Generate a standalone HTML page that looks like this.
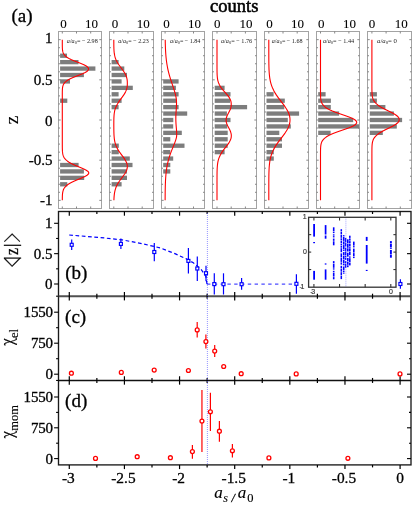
<!DOCTYPE html><html><head><meta charset="utf-8"><style>html,body{margin:0;padding:0;background:#fff;overflow:hidden}svg{display:block;filter:blur(0.3px)}text{stroke:#000;stroke-width:0.3px}text.lt{stroke:none}</style></head><body>
<svg width="415" height="505" viewBox="0 0 415 505">
<rect width="415" height="505" fill="#fff"/>
<rect x="60.1" y="53.57" width="6.9" height="4.3" fill="#7d7d7d"/>
<rect x="60.1" y="60" width="18.4" height="4.3" fill="#7d7d7d"/>
<rect x="60.1" y="66.43" width="35.3" height="4.3" fill="#7d7d7d"/>
<rect x="60.1" y="72.85" width="23.8" height="4.3" fill="#7d7d7d"/>
<rect x="60.1" y="79.28" width="9.9" height="4.3" fill="#7d7d7d"/>
<rect x="60.1" y="98.57" width="7.2" height="4.3" fill="#7d7d7d"/>
<rect x="60.1" y="162.85" width="18.5" height="4.3" fill="#7d7d7d"/>
<rect x="60.1" y="169.27" width="23.8" height="4.3" fill="#7d7d7d"/>
<rect x="60.1" y="175.7" width="24.1" height="4.3" fill="#7d7d7d"/>
<rect x="60.1" y="182.13" width="7.2" height="4.3" fill="#7d7d7d"/>
<rect x="58.5" y="31.5" width="43" height="177" fill="none" stroke="#a3a3a3" stroke-width="1"/>
<line x1="62.3" y1="31.5" x2="62.3" y2="33.5" stroke="#7a7a7a" stroke-width="0.9"/>
<line x1="62.3" y1="208.5" x2="62.3" y2="206.5" stroke="#7a7a7a" stroke-width="0.9"/>
<line x1="76.5" y1="31.5" x2="76.5" y2="33.5" stroke="#7a7a7a" stroke-width="0.9"/>
<line x1="76.5" y1="208.5" x2="76.5" y2="206.5" stroke="#7a7a7a" stroke-width="0.9"/>
<line x1="90.7" y1="31.5" x2="90.7" y2="33.5" stroke="#7a7a7a" stroke-width="0.9"/>
<line x1="90.7" y1="208.5" x2="90.7" y2="206.5" stroke="#7a7a7a" stroke-width="0.9"/>
<line x1="58.5" y1="200.35" x2="60.7" y2="200.35" stroke="#7a7a7a" stroke-width="0.9"/>
<line x1="101.5" y1="200.35" x2="99.3" y2="200.35" stroke="#7a7a7a" stroke-width="0.9"/>
<line x1="58.5" y1="192.31" x2="60" y2="192.31" stroke="#7a7a7a" stroke-width="0.9"/>
<line x1="101.5" y1="192.31" x2="100" y2="192.31" stroke="#7a7a7a" stroke-width="0.9"/>
<line x1="58.5" y1="184.28" x2="60" y2="184.28" stroke="#7a7a7a" stroke-width="0.9"/>
<line x1="101.5" y1="184.28" x2="100" y2="184.28" stroke="#7a7a7a" stroke-width="0.9"/>
<line x1="58.5" y1="176.25" x2="60" y2="176.25" stroke="#7a7a7a" stroke-width="0.9"/>
<line x1="101.5" y1="176.25" x2="100" y2="176.25" stroke="#7a7a7a" stroke-width="0.9"/>
<line x1="58.5" y1="168.21" x2="60" y2="168.21" stroke="#7a7a7a" stroke-width="0.9"/>
<line x1="101.5" y1="168.21" x2="100" y2="168.21" stroke="#7a7a7a" stroke-width="0.9"/>
<line x1="58.5" y1="160.18" x2="60.7" y2="160.18" stroke="#7a7a7a" stroke-width="0.9"/>
<line x1="101.5" y1="160.18" x2="99.3" y2="160.18" stroke="#7a7a7a" stroke-width="0.9"/>
<line x1="58.5" y1="152.14" x2="60" y2="152.14" stroke="#7a7a7a" stroke-width="0.9"/>
<line x1="101.5" y1="152.14" x2="100" y2="152.14" stroke="#7a7a7a" stroke-width="0.9"/>
<line x1="58.5" y1="144.1" x2="60" y2="144.1" stroke="#7a7a7a" stroke-width="0.9"/>
<line x1="101.5" y1="144.1" x2="100" y2="144.1" stroke="#7a7a7a" stroke-width="0.9"/>
<line x1="58.5" y1="136.07" x2="60" y2="136.07" stroke="#7a7a7a" stroke-width="0.9"/>
<line x1="101.5" y1="136.07" x2="100" y2="136.07" stroke="#7a7a7a" stroke-width="0.9"/>
<line x1="58.5" y1="128.03" x2="60" y2="128.03" stroke="#7a7a7a" stroke-width="0.9"/>
<line x1="101.5" y1="128.03" x2="100" y2="128.03" stroke="#7a7a7a" stroke-width="0.9"/>
<line x1="58.5" y1="120" x2="60.7" y2="120" stroke="#7a7a7a" stroke-width="0.9"/>
<line x1="101.5" y1="120" x2="99.3" y2="120" stroke="#7a7a7a" stroke-width="0.9"/>
<line x1="58.5" y1="111.97" x2="60" y2="111.97" stroke="#7a7a7a" stroke-width="0.9"/>
<line x1="101.5" y1="111.97" x2="100" y2="111.97" stroke="#7a7a7a" stroke-width="0.9"/>
<line x1="58.5" y1="103.93" x2="60" y2="103.93" stroke="#7a7a7a" stroke-width="0.9"/>
<line x1="101.5" y1="103.93" x2="100" y2="103.93" stroke="#7a7a7a" stroke-width="0.9"/>
<line x1="58.5" y1="95.9" x2="60" y2="95.9" stroke="#7a7a7a" stroke-width="0.9"/>
<line x1="101.5" y1="95.9" x2="100" y2="95.9" stroke="#7a7a7a" stroke-width="0.9"/>
<line x1="58.5" y1="87.86" x2="60" y2="87.86" stroke="#7a7a7a" stroke-width="0.9"/>
<line x1="101.5" y1="87.86" x2="100" y2="87.86" stroke="#7a7a7a" stroke-width="0.9"/>
<line x1="58.5" y1="79.83" x2="60.7" y2="79.83" stroke="#7a7a7a" stroke-width="0.9"/>
<line x1="101.5" y1="79.83" x2="99.3" y2="79.83" stroke="#7a7a7a" stroke-width="0.9"/>
<line x1="58.5" y1="71.79" x2="60" y2="71.79" stroke="#7a7a7a" stroke-width="0.9"/>
<line x1="101.5" y1="71.79" x2="100" y2="71.79" stroke="#7a7a7a" stroke-width="0.9"/>
<line x1="58.5" y1="63.76" x2="60" y2="63.76" stroke="#7a7a7a" stroke-width="0.9"/>
<line x1="101.5" y1="63.76" x2="100" y2="63.76" stroke="#7a7a7a" stroke-width="0.9"/>
<line x1="58.5" y1="55.72" x2="60" y2="55.72" stroke="#7a7a7a" stroke-width="0.9"/>
<line x1="101.5" y1="55.72" x2="100" y2="55.72" stroke="#7a7a7a" stroke-width="0.9"/>
<line x1="58.5" y1="47.69" x2="60" y2="47.69" stroke="#7a7a7a" stroke-width="0.9"/>
<line x1="101.5" y1="47.69" x2="100" y2="47.69" stroke="#7a7a7a" stroke-width="0.9"/>
<line x1="58.5" y1="39.65" x2="60.7" y2="39.65" stroke="#7a7a7a" stroke-width="0.9"/>
<line x1="101.5" y1="39.65" x2="99.3" y2="39.65" stroke="#7a7a7a" stroke-width="0.9"/>
<polyline points="62.3,39.65 62.3,40.65 62.3,41.66 62.3,42.66 62.3,43.67 62.31,44.67 62.32,45.68 62.33,46.68 62.36,47.69 62.4,48.69 62.48,49.69 62.61,50.7 62.81,51.7 63.12,52.71 63.57,53.71 64.22,54.72 65.09,55.72 66.24,56.72 67.7,57.73 69.49,58.73 71.57,59.74 73.92,60.74 76.45,61.75 79.05,62.75 81.57,63.76 83.88,64.76 85.82,65.76 87.29,66.77 88.2,67.77 88.55,68.78 88.4,69.78 87.71,70.79 86.45,71.79 84.68,72.79 82.5,73.8 80.04,74.8 77.46,75.81 74.89,76.81 72.46,77.82 70.26,78.82 68.35,79.83 66.77,80.83 65.5,81.83 64.52,82.84 63.8,83.84 63.28,84.85 62.92,85.85 62.68,86.86 62.52,87.86 62.43,88.86 62.37,89.87 62.34,90.87 62.32,91.88 62.31,92.88 62.3,93.89 62.3,94.89 62.3,95.89 62.3,96.9 62.3,97.9 62.3,98.91 62.3,99.91 62.3,100.92 62.3,101.92 62.3,102.93 62.3,103.93 62.3,104.93 62.3,105.94 62.3,106.94 62.3,107.95 62.3,108.95 62.3,109.96 62.3,110.96 62.3,111.97 62.3,112.97 62.3,113.97 62.3,114.98 62.3,115.98 62.3,116.99 62.3,117.99 62.3,119 62.3,120 62.3,121 62.3,122.01 62.3,123.01 62.3,124.02 62.3,125.02 62.3,126.03 62.3,127.03 62.3,128.03 62.3,129.04 62.3,130.04 62.3,131.05 62.3,132.05 62.3,133.06 62.3,134.06 62.3,135.07 62.3,136.07 62.3,137.07 62.3,138.08 62.3,139.08 62.3,140.09 62.3,141.09 62.3,142.1 62.3,143.1 62.3,144.1 62.31,145.11 62.31,146.11 62.32,147.12 62.33,148.12 62.36,149.13 62.39,150.13 62.44,151.14 62.52,152.14 62.64,153.14 62.81,154.15 63.06,155.15 63.4,156.16 63.87,157.16 64.48,158.17 65.28,159.17 66.29,160.18 67.54,161.18 69.04,162.18 70.8,163.19 72.8,164.19 75.01,165.2 77.36,166.2 79.77,167.21 82.14,168.21 84.33,169.21 86.23,170.22 87.68,171.22 88.58,172.23 88.79,173.23 88.22,174.24 87.03,175.24 85.34,176.25 83.28,177.25 80.98,178.25 78.58,179.26 76.19,180.26 73.9,181.27 71.79,182.27 69.9,183.28 68.27,184.28 66.89,185.28 65.76,186.29 64.86,187.29 64.16,188.3 63.62,189.3 63.22,190.31 62.93,191.31 62.72,192.31 62.58,193.32 62.48,194.32 62.41,195.33 62.37,196.33 62.34,197.34 62.33,198.34 62.32,199.35 62.31,200.35" fill="none" stroke="#ff0000" stroke-width="1.1" stroke-linejoin="round"/>
<text class="lt" x="66.8" y="42.6" font-family="'Liberation Serif', 'Times New Roman', serif" font-size="6.9" fill="#1c1c1c" textLength="31" lengthAdjust="spacingAndGlyphs"><tspan font-style="italic">a</tspan>/<tspan font-style="italic">a</tspan><tspan font-size="5" dy="1.5">0</tspan><tspan dy="-1.5">= − 2.98</tspan></text>
<text x="63.4" y="28.3" font-family="'Liberation Serif', 'Times New Roman', serif" font-size="13" text-anchor="middle" fill="#000" style="stroke-width:0.1px">0</text>
<text x="91.5" y="28.3" font-family="'Liberation Serif', 'Times New Roman', serif" font-size="13" text-anchor="middle" fill="#000" style="stroke-width:0.1px">10</text>
<rect x="111.6" y="60" width="7" height="4.3" fill="#7d7d7d"/>
<rect x="111.6" y="66.43" width="12.7" height="4.3" fill="#7d7d7d"/>
<rect x="111.6" y="72.85" width="15.4" height="4.3" fill="#7d7d7d"/>
<rect x="111.6" y="79.28" width="10" height="4.3" fill="#7d7d7d"/>
<rect x="111.6" y="85.71" width="21.2" height="4.3" fill="#7d7d7d"/>
<rect x="111.6" y="92.14" width="7" height="4.3" fill="#7d7d7d"/>
<rect x="111.6" y="98.57" width="10" height="4.3" fill="#7d7d7d"/>
<rect x="111.6" y="104.99" width="7" height="4.3" fill="#7d7d7d"/>
<rect x="111.6" y="143.56" width="7.2" height="4.3" fill="#7d7d7d"/>
<rect x="111.6" y="149.99" width="7.2" height="4.3" fill="#7d7d7d"/>
<rect x="111.6" y="156.42" width="18.2" height="4.3" fill="#7d7d7d"/>
<rect x="111.6" y="162.85" width="20.9" height="4.3" fill="#7d7d7d"/>
<rect x="111.6" y="169.27" width="15.4" height="4.3" fill="#7d7d7d"/>
<rect x="111.6" y="175.7" width="15.4" height="4.3" fill="#7d7d7d"/>
<rect x="111.6" y="182.13" width="10" height="4.3" fill="#7d7d7d"/>
<rect x="109.5" y="31.5" width="44" height="177" fill="none" stroke="#a3a3a3" stroke-width="1"/>
<line x1="113.8" y1="31.5" x2="113.8" y2="33.5" stroke="#7a7a7a" stroke-width="0.9"/>
<line x1="113.8" y1="208.5" x2="113.8" y2="206.5" stroke="#7a7a7a" stroke-width="0.9"/>
<line x1="128" y1="31.5" x2="128" y2="33.5" stroke="#7a7a7a" stroke-width="0.9"/>
<line x1="128" y1="208.5" x2="128" y2="206.5" stroke="#7a7a7a" stroke-width="0.9"/>
<line x1="142.2" y1="31.5" x2="142.2" y2="33.5" stroke="#7a7a7a" stroke-width="0.9"/>
<line x1="142.2" y1="208.5" x2="142.2" y2="206.5" stroke="#7a7a7a" stroke-width="0.9"/>
<line x1="109.5" y1="200.35" x2="111.7" y2="200.35" stroke="#7a7a7a" stroke-width="0.9"/>
<line x1="153.5" y1="200.35" x2="151.3" y2="200.35" stroke="#7a7a7a" stroke-width="0.9"/>
<line x1="109.5" y1="192.31" x2="111" y2="192.31" stroke="#7a7a7a" stroke-width="0.9"/>
<line x1="153.5" y1="192.31" x2="152" y2="192.31" stroke="#7a7a7a" stroke-width="0.9"/>
<line x1="109.5" y1="184.28" x2="111" y2="184.28" stroke="#7a7a7a" stroke-width="0.9"/>
<line x1="153.5" y1="184.28" x2="152" y2="184.28" stroke="#7a7a7a" stroke-width="0.9"/>
<line x1="109.5" y1="176.25" x2="111" y2="176.25" stroke="#7a7a7a" stroke-width="0.9"/>
<line x1="153.5" y1="176.25" x2="152" y2="176.25" stroke="#7a7a7a" stroke-width="0.9"/>
<line x1="109.5" y1="168.21" x2="111" y2="168.21" stroke="#7a7a7a" stroke-width="0.9"/>
<line x1="153.5" y1="168.21" x2="152" y2="168.21" stroke="#7a7a7a" stroke-width="0.9"/>
<line x1="109.5" y1="160.18" x2="111.7" y2="160.18" stroke="#7a7a7a" stroke-width="0.9"/>
<line x1="153.5" y1="160.18" x2="151.3" y2="160.18" stroke="#7a7a7a" stroke-width="0.9"/>
<line x1="109.5" y1="152.14" x2="111" y2="152.14" stroke="#7a7a7a" stroke-width="0.9"/>
<line x1="153.5" y1="152.14" x2="152" y2="152.14" stroke="#7a7a7a" stroke-width="0.9"/>
<line x1="109.5" y1="144.1" x2="111" y2="144.1" stroke="#7a7a7a" stroke-width="0.9"/>
<line x1="153.5" y1="144.1" x2="152" y2="144.1" stroke="#7a7a7a" stroke-width="0.9"/>
<line x1="109.5" y1="136.07" x2="111" y2="136.07" stroke="#7a7a7a" stroke-width="0.9"/>
<line x1="153.5" y1="136.07" x2="152" y2="136.07" stroke="#7a7a7a" stroke-width="0.9"/>
<line x1="109.5" y1="128.03" x2="111" y2="128.03" stroke="#7a7a7a" stroke-width="0.9"/>
<line x1="153.5" y1="128.03" x2="152" y2="128.03" stroke="#7a7a7a" stroke-width="0.9"/>
<line x1="109.5" y1="120" x2="111.7" y2="120" stroke="#7a7a7a" stroke-width="0.9"/>
<line x1="153.5" y1="120" x2="151.3" y2="120" stroke="#7a7a7a" stroke-width="0.9"/>
<line x1="109.5" y1="111.97" x2="111" y2="111.97" stroke="#7a7a7a" stroke-width="0.9"/>
<line x1="153.5" y1="111.97" x2="152" y2="111.97" stroke="#7a7a7a" stroke-width="0.9"/>
<line x1="109.5" y1="103.93" x2="111" y2="103.93" stroke="#7a7a7a" stroke-width="0.9"/>
<line x1="153.5" y1="103.93" x2="152" y2="103.93" stroke="#7a7a7a" stroke-width="0.9"/>
<line x1="109.5" y1="95.9" x2="111" y2="95.9" stroke="#7a7a7a" stroke-width="0.9"/>
<line x1="153.5" y1="95.9" x2="152" y2="95.9" stroke="#7a7a7a" stroke-width="0.9"/>
<line x1="109.5" y1="87.86" x2="111" y2="87.86" stroke="#7a7a7a" stroke-width="0.9"/>
<line x1="153.5" y1="87.86" x2="152" y2="87.86" stroke="#7a7a7a" stroke-width="0.9"/>
<line x1="109.5" y1="79.83" x2="111.7" y2="79.83" stroke="#7a7a7a" stroke-width="0.9"/>
<line x1="153.5" y1="79.83" x2="151.3" y2="79.83" stroke="#7a7a7a" stroke-width="0.9"/>
<line x1="109.5" y1="71.79" x2="111" y2="71.79" stroke="#7a7a7a" stroke-width="0.9"/>
<line x1="153.5" y1="71.79" x2="152" y2="71.79" stroke="#7a7a7a" stroke-width="0.9"/>
<line x1="109.5" y1="63.76" x2="111" y2="63.76" stroke="#7a7a7a" stroke-width="0.9"/>
<line x1="153.5" y1="63.76" x2="152" y2="63.76" stroke="#7a7a7a" stroke-width="0.9"/>
<line x1="109.5" y1="55.72" x2="111" y2="55.72" stroke="#7a7a7a" stroke-width="0.9"/>
<line x1="153.5" y1="55.72" x2="152" y2="55.72" stroke="#7a7a7a" stroke-width="0.9"/>
<line x1="109.5" y1="47.69" x2="111" y2="47.69" stroke="#7a7a7a" stroke-width="0.9"/>
<line x1="153.5" y1="47.69" x2="152" y2="47.69" stroke="#7a7a7a" stroke-width="0.9"/>
<line x1="109.5" y1="39.65" x2="111.7" y2="39.65" stroke="#7a7a7a" stroke-width="0.9"/>
<line x1="153.5" y1="39.65" x2="151.3" y2="39.65" stroke="#7a7a7a" stroke-width="0.9"/>
<polyline points="113.8,39.65 113.8,40.65 113.81,41.66 113.81,42.66 113.82,43.67 113.82,44.67 113.84,45.68 113.85,46.68 113.88,47.69 113.91,48.69 113.96,49.69 114.02,50.7 114.1,51.7 114.2,52.71 114.34,53.71 114.51,54.72 114.71,55.72 114.96,56.72 115.26,57.73 115.61,58.73 116.02,59.74 116.48,60.74 117,61.75 117.57,62.75 118.2,63.76 118.86,64.76 119.57,65.76 120.29,66.77 121.04,67.77 121.78,68.78 122.52,69.78 123.23,70.79 123.9,71.79 124.54,72.79 125.11,73.8 125.63,74.8 126.07,75.81 126.45,76.81 126.75,77.82 126.98,78.82 127.15,79.83 127.25,80.83 127.31,81.83 127.33,82.84 127.33,83.84 127.3,84.85 127.24,85.85 127.12,86.86 126.94,87.86 126.7,88.86 126.38,89.87 125.99,90.87 125.53,91.88 125.01,92.88 124.42,93.89 123.78,94.89 123.09,95.89 122.38,96.9 121.64,97.9 120.9,98.91 120.15,99.91 119.43,100.92 118.73,101.92 118.08,102.93 117.46,103.93 116.9,104.93 116.39,105.94 115.94,106.94 115.54,107.95 115.2,108.95 114.91,109.96 114.67,110.96 114.47,111.97 114.31,112.97 114.18,113.97 114.08,114.98 114.01,115.98 113.95,116.99 113.9,117.99 113.87,119 113.85,120 113.83,121 113.82,122.01 113.82,123.01 113.81,124.02 113.81,125.02 113.82,126.03 113.82,127.03 113.83,128.03 113.83,129.04 113.85,130.04 113.86,131.05 113.89,132.05 113.92,133.06 113.95,134.06 114,135.07 114.07,136.07 114.15,137.07 114.25,138.08 114.37,139.08 114.52,140.09 114.69,141.09 114.91,142.1 115.16,143.1 115.46,144.1 115.8,145.11 116.19,146.11 116.63,147.12 117.12,148.12 117.67,149.13 118.26,150.13 118.9,151.14 119.58,152.14 120.3,153.14 121.04,154.15 121.79,155.15 122.55,156.16 123.3,157.16 124.02,158.17 124.7,159.17 125.33,160.18 125.89,161.18 126.37,162.18 126.76,163.19 127.05,164.19 127.24,165.2 127.32,166.2 127.31,167.21 127.18,168.21 126.96,169.21 126.63,170.22 126.2,171.22 125.69,172.23 125.1,173.23 124.46,174.24 123.76,175.24 123.03,176.25 122.28,177.25 121.52,178.25 120.77,179.26 120.04,180.26 119.33,181.27 118.66,182.27 118.04,183.28 117.46,184.28 116.94,185.28 116.46,186.29 116.04,187.29 115.67,188.3 115.34,189.3 115.06,190.31 114.83,191.31 114.63,192.31 114.46,193.32 114.32,194.32 114.21,195.33 114.12,196.33 114.04,197.34 113.99,198.34 113.94,199.35 113.9,200.35" fill="none" stroke="#ff0000" stroke-width="1.1" stroke-linejoin="round"/>
<text class="lt" x="118.3" y="42.6" font-family="'Liberation Serif', 'Times New Roman', serif" font-size="6.9" fill="#1c1c1c" textLength="30.5" lengthAdjust="spacingAndGlyphs"><tspan font-style="italic">a</tspan>/<tspan font-style="italic">a</tspan><tspan font-size="5" dy="1.5">0</tspan><tspan dy="-1.5">= − 2.23</tspan></text>
<text x="114.9" y="28.3" font-family="'Liberation Serif', 'Times New Roman', serif" font-size="13" text-anchor="middle" fill="#000" style="stroke-width:0.1px">0</text>
<text x="143.2" y="28.3" font-family="'Liberation Serif', 'Times New Roman', serif" font-size="13" text-anchor="middle" fill="#000" style="stroke-width:0.1px">10</text>
<rect x="163.2" y="79.28" width="15.4" height="4.3" fill="#7d7d7d"/>
<rect x="163.2" y="85.71" width="12.7" height="4.3" fill="#7d7d7d"/>
<rect x="163.2" y="92.14" width="15.4" height="4.3" fill="#7d7d7d"/>
<rect x="163.2" y="98.57" width="13.1" height="4.3" fill="#7d7d7d"/>
<rect x="163.2" y="104.99" width="15.4" height="4.3" fill="#7d7d7d"/>
<rect x="163.2" y="111.42" width="24" height="4.3" fill="#7d7d7d"/>
<rect x="163.2" y="117.85" width="10.1" height="4.3" fill="#7d7d7d"/>
<rect x="163.2" y="124.28" width="10" height="4.3" fill="#7d7d7d"/>
<rect x="163.2" y="130.71" width="18.6" height="4.3" fill="#7d7d7d"/>
<rect x="163.2" y="137.13" width="7.1" height="4.3" fill="#7d7d7d"/>
<rect x="163.2" y="143.56" width="21.3" height="4.3" fill="#7d7d7d"/>
<rect x="163.2" y="149.99" width="7.1" height="4.3" fill="#7d7d7d"/>
<rect x="163.2" y="156.42" width="10" height="4.3" fill="#7d7d7d"/>
<rect x="163.2" y="162.85" width="7.1" height="4.3" fill="#7d7d7d"/>
<rect x="163.2" y="169.27" width="7.1" height="4.3" fill="#7d7d7d"/>
<rect x="161.5" y="31.5" width="43" height="177" fill="none" stroke="#a3a3a3" stroke-width="1"/>
<line x1="165.1" y1="31.5" x2="165.1" y2="33.5" stroke="#7a7a7a" stroke-width="0.9"/>
<line x1="165.1" y1="208.5" x2="165.1" y2="206.5" stroke="#7a7a7a" stroke-width="0.9"/>
<line x1="179.3" y1="31.5" x2="179.3" y2="33.5" stroke="#7a7a7a" stroke-width="0.9"/>
<line x1="179.3" y1="208.5" x2="179.3" y2="206.5" stroke="#7a7a7a" stroke-width="0.9"/>
<line x1="193.5" y1="31.5" x2="193.5" y2="33.5" stroke="#7a7a7a" stroke-width="0.9"/>
<line x1="193.5" y1="208.5" x2="193.5" y2="206.5" stroke="#7a7a7a" stroke-width="0.9"/>
<line x1="161.5" y1="200.35" x2="163.7" y2="200.35" stroke="#7a7a7a" stroke-width="0.9"/>
<line x1="204.5" y1="200.35" x2="202.3" y2="200.35" stroke="#7a7a7a" stroke-width="0.9"/>
<line x1="161.5" y1="192.31" x2="163" y2="192.31" stroke="#7a7a7a" stroke-width="0.9"/>
<line x1="204.5" y1="192.31" x2="203" y2="192.31" stroke="#7a7a7a" stroke-width="0.9"/>
<line x1="161.5" y1="184.28" x2="163" y2="184.28" stroke="#7a7a7a" stroke-width="0.9"/>
<line x1="204.5" y1="184.28" x2="203" y2="184.28" stroke="#7a7a7a" stroke-width="0.9"/>
<line x1="161.5" y1="176.25" x2="163" y2="176.25" stroke="#7a7a7a" stroke-width="0.9"/>
<line x1="204.5" y1="176.25" x2="203" y2="176.25" stroke="#7a7a7a" stroke-width="0.9"/>
<line x1="161.5" y1="168.21" x2="163" y2="168.21" stroke="#7a7a7a" stroke-width="0.9"/>
<line x1="204.5" y1="168.21" x2="203" y2="168.21" stroke="#7a7a7a" stroke-width="0.9"/>
<line x1="161.5" y1="160.18" x2="163.7" y2="160.18" stroke="#7a7a7a" stroke-width="0.9"/>
<line x1="204.5" y1="160.18" x2="202.3" y2="160.18" stroke="#7a7a7a" stroke-width="0.9"/>
<line x1="161.5" y1="152.14" x2="163" y2="152.14" stroke="#7a7a7a" stroke-width="0.9"/>
<line x1="204.5" y1="152.14" x2="203" y2="152.14" stroke="#7a7a7a" stroke-width="0.9"/>
<line x1="161.5" y1="144.1" x2="163" y2="144.1" stroke="#7a7a7a" stroke-width="0.9"/>
<line x1="204.5" y1="144.1" x2="203" y2="144.1" stroke="#7a7a7a" stroke-width="0.9"/>
<line x1="161.5" y1="136.07" x2="163" y2="136.07" stroke="#7a7a7a" stroke-width="0.9"/>
<line x1="204.5" y1="136.07" x2="203" y2="136.07" stroke="#7a7a7a" stroke-width="0.9"/>
<line x1="161.5" y1="128.03" x2="163" y2="128.03" stroke="#7a7a7a" stroke-width="0.9"/>
<line x1="204.5" y1="128.03" x2="203" y2="128.03" stroke="#7a7a7a" stroke-width="0.9"/>
<line x1="161.5" y1="120" x2="163.7" y2="120" stroke="#7a7a7a" stroke-width="0.9"/>
<line x1="204.5" y1="120" x2="202.3" y2="120" stroke="#7a7a7a" stroke-width="0.9"/>
<line x1="161.5" y1="111.97" x2="163" y2="111.97" stroke="#7a7a7a" stroke-width="0.9"/>
<line x1="204.5" y1="111.97" x2="203" y2="111.97" stroke="#7a7a7a" stroke-width="0.9"/>
<line x1="161.5" y1="103.93" x2="163" y2="103.93" stroke="#7a7a7a" stroke-width="0.9"/>
<line x1="204.5" y1="103.93" x2="203" y2="103.93" stroke="#7a7a7a" stroke-width="0.9"/>
<line x1="161.5" y1="95.9" x2="163" y2="95.9" stroke="#7a7a7a" stroke-width="0.9"/>
<line x1="204.5" y1="95.9" x2="203" y2="95.9" stroke="#7a7a7a" stroke-width="0.9"/>
<line x1="161.5" y1="87.86" x2="163" y2="87.86" stroke="#7a7a7a" stroke-width="0.9"/>
<line x1="204.5" y1="87.86" x2="203" y2="87.86" stroke="#7a7a7a" stroke-width="0.9"/>
<line x1="161.5" y1="79.83" x2="163.7" y2="79.83" stroke="#7a7a7a" stroke-width="0.9"/>
<line x1="204.5" y1="79.83" x2="202.3" y2="79.83" stroke="#7a7a7a" stroke-width="0.9"/>
<line x1="161.5" y1="71.79" x2="163" y2="71.79" stroke="#7a7a7a" stroke-width="0.9"/>
<line x1="204.5" y1="71.79" x2="203" y2="71.79" stroke="#7a7a7a" stroke-width="0.9"/>
<line x1="161.5" y1="63.76" x2="163" y2="63.76" stroke="#7a7a7a" stroke-width="0.9"/>
<line x1="204.5" y1="63.76" x2="203" y2="63.76" stroke="#7a7a7a" stroke-width="0.9"/>
<line x1="161.5" y1="55.72" x2="163" y2="55.72" stroke="#7a7a7a" stroke-width="0.9"/>
<line x1="204.5" y1="55.72" x2="203" y2="55.72" stroke="#7a7a7a" stroke-width="0.9"/>
<line x1="161.5" y1="47.69" x2="163" y2="47.69" stroke="#7a7a7a" stroke-width="0.9"/>
<line x1="204.5" y1="47.69" x2="203" y2="47.69" stroke="#7a7a7a" stroke-width="0.9"/>
<line x1="161.5" y1="39.65" x2="163.7" y2="39.65" stroke="#7a7a7a" stroke-width="0.9"/>
<line x1="204.5" y1="39.65" x2="202.3" y2="39.65" stroke="#7a7a7a" stroke-width="0.9"/>
<polyline points="165.22,39.65 165.24,40.65 165.26,41.66 165.28,42.66 165.3,43.67 165.33,44.67 165.36,45.68 165.39,46.68 165.43,47.69 165.47,48.69 165.52,49.69 165.57,50.7 165.62,51.7 165.69,52.71 165.75,53.71 165.83,54.72 165.91,55.72 166,56.72 166.09,57.73 166.2,58.73 166.31,59.74 166.43,60.74 166.57,61.75 166.71,62.75 166.86,63.76 167.02,64.76 167.2,65.76 167.38,66.77 167.58,67.77 167.79,68.78 168.01,69.78 168.24,70.79 168.48,71.79 168.73,72.79 169,73.8 169.27,74.8 169.56,75.81 169.85,76.81 170.16,77.82 170.47,78.82 170.79,79.83 171.12,80.83 171.45,81.83 171.78,82.84 172.12,83.84 172.46,84.85 172.79,85.85 173.13,86.86 173.46,87.86 173.79,88.86 174.1,89.87 174.41,90.87 174.71,91.88 174.99,92.88 175.26,93.89 175.51,94.89 175.74,95.89 175.95,96.9 176.13,97.9 176.29,98.91 176.41,99.91 176.47,100.92 176.51,101.92 176.52,102.93 176.51,103.93 176.48,104.93 176.44,105.94 176.39,106.94 176.33,107.95 176.26,108.95 176.2,109.96 176.13,110.96 176.06,111.97 176,112.97 175.95,113.97 175.9,114.98 175.86,115.98 175.84,116.99 175.83,117.99 175.83,119 175.84,120 175.87,121 175.91,122.01 175.96,123.01 176.02,124.02 176.09,125.02 176.17,126.03 176.25,127.03 176.34,128.03 176.43,129.04 176.51,130.04 176.58,131.05 176.64,132.05 176.69,133.06 176.71,134.06 176.69,135.07 176.64,136.07 176.51,137.07 176.28,138.08 176.01,139.08 175.7,140.09 175.36,141.09 175,142.1 174.62,143.1 174.23,144.1 173.83,145.11 173.43,146.11 173.02,147.12 172.62,148.12 172.21,149.13 171.81,150.13 171.42,151.14 171.04,152.14 170.66,153.14 170.3,154.15 169.95,155.15 169.61,156.16 169.29,157.16 168.98,158.17 168.69,159.17 168.41,160.18 168.15,161.18 167.9,162.18 167.66,163.19 167.45,164.19 167.24,165.2 167.05,166.2 166.87,167.21 166.71,168.21 166.56,169.21 166.42,170.22 166.29,171.22 166.17,172.23 166.06,173.23 165.96,174.24 165.87,175.24 165.79,176.25 165.71,177.25 165.65,178.25 165.59,179.26 165.53,180.26 165.48,181.27 165.44,182.27 165.4,183.28 165.36,184.28 165.33,185.28 165.3,186.29 165.28,187.29 165.26,188.3 165.24,189.3 165.22,190.31 165.2,191.31 165.19,192.31 165.18,193.32 165.17,194.32 165.16,195.33 165.15,196.33 165.14,197.34 165.14,198.34 165.13,199.35 165.13,200.35" fill="none" stroke="#ff0000" stroke-width="1.1" stroke-linejoin="round"/>
<text class="lt" x="170" y="42.6" font-family="'Liberation Serif', 'Times New Roman', serif" font-size="6.9" fill="#1c1c1c" textLength="30.4" lengthAdjust="spacingAndGlyphs"><tspan font-style="italic">a</tspan>/<tspan font-style="italic">a</tspan><tspan font-size="5" dy="1.5">0</tspan><tspan dy="-1.5">= − 1.84</tspan></text>
<text x="166.5" y="28.3" font-family="'Liberation Serif', 'Times New Roman', serif" font-size="13" text-anchor="middle" fill="#000" style="stroke-width:0.1px">0</text>
<text x="194.6" y="28.3" font-family="'Liberation Serif', 'Times New Roman', serif" font-size="13" text-anchor="middle" fill="#000" style="stroke-width:0.1px">10</text>
<rect x="214.7" y="85.71" width="9.9" height="4.3" fill="#7d7d7d"/>
<rect x="214.7" y="92.14" width="15.8" height="4.3" fill="#7d7d7d"/>
<rect x="214.7" y="98.57" width="15.3" height="4.3" fill="#7d7d7d"/>
<rect x="214.7" y="104.99" width="32.4" height="4.3" fill="#7d7d7d"/>
<rect x="214.7" y="111.42" width="12.2" height="4.3" fill="#7d7d7d"/>
<rect x="214.7" y="117.85" width="15.8" height="4.3" fill="#7d7d7d"/>
<rect x="214.7" y="124.28" width="12.6" height="4.3" fill="#7d7d7d"/>
<rect x="214.7" y="130.71" width="13" height="4.3" fill="#7d7d7d"/>
<rect x="214.7" y="137.13" width="13" height="4.3" fill="#7d7d7d"/>
<rect x="214.7" y="143.56" width="13" height="4.3" fill="#7d7d7d"/>
<rect x="214.7" y="149.99" width="9.9" height="4.3" fill="#7d7d7d"/>
<rect x="212.5" y="31.5" width="44" height="177" fill="none" stroke="#a3a3a3" stroke-width="1"/>
<line x1="217" y1="31.5" x2="217" y2="33.5" stroke="#7a7a7a" stroke-width="0.9"/>
<line x1="217" y1="208.5" x2="217" y2="206.5" stroke="#7a7a7a" stroke-width="0.9"/>
<line x1="231.2" y1="31.5" x2="231.2" y2="33.5" stroke="#7a7a7a" stroke-width="0.9"/>
<line x1="231.2" y1="208.5" x2="231.2" y2="206.5" stroke="#7a7a7a" stroke-width="0.9"/>
<line x1="245.4" y1="31.5" x2="245.4" y2="33.5" stroke="#7a7a7a" stroke-width="0.9"/>
<line x1="245.4" y1="208.5" x2="245.4" y2="206.5" stroke="#7a7a7a" stroke-width="0.9"/>
<line x1="212.5" y1="200.35" x2="214.7" y2="200.35" stroke="#7a7a7a" stroke-width="0.9"/>
<line x1="256.5" y1="200.35" x2="254.3" y2="200.35" stroke="#7a7a7a" stroke-width="0.9"/>
<line x1="212.5" y1="192.31" x2="214" y2="192.31" stroke="#7a7a7a" stroke-width="0.9"/>
<line x1="256.5" y1="192.31" x2="255" y2="192.31" stroke="#7a7a7a" stroke-width="0.9"/>
<line x1="212.5" y1="184.28" x2="214" y2="184.28" stroke="#7a7a7a" stroke-width="0.9"/>
<line x1="256.5" y1="184.28" x2="255" y2="184.28" stroke="#7a7a7a" stroke-width="0.9"/>
<line x1="212.5" y1="176.25" x2="214" y2="176.25" stroke="#7a7a7a" stroke-width="0.9"/>
<line x1="256.5" y1="176.25" x2="255" y2="176.25" stroke="#7a7a7a" stroke-width="0.9"/>
<line x1="212.5" y1="168.21" x2="214" y2="168.21" stroke="#7a7a7a" stroke-width="0.9"/>
<line x1="256.5" y1="168.21" x2="255" y2="168.21" stroke="#7a7a7a" stroke-width="0.9"/>
<line x1="212.5" y1="160.18" x2="214.7" y2="160.18" stroke="#7a7a7a" stroke-width="0.9"/>
<line x1="256.5" y1="160.18" x2="254.3" y2="160.18" stroke="#7a7a7a" stroke-width="0.9"/>
<line x1="212.5" y1="152.14" x2="214" y2="152.14" stroke="#7a7a7a" stroke-width="0.9"/>
<line x1="256.5" y1="152.14" x2="255" y2="152.14" stroke="#7a7a7a" stroke-width="0.9"/>
<line x1="212.5" y1="144.1" x2="214" y2="144.1" stroke="#7a7a7a" stroke-width="0.9"/>
<line x1="256.5" y1="144.1" x2="255" y2="144.1" stroke="#7a7a7a" stroke-width="0.9"/>
<line x1="212.5" y1="136.07" x2="214" y2="136.07" stroke="#7a7a7a" stroke-width="0.9"/>
<line x1="256.5" y1="136.07" x2="255" y2="136.07" stroke="#7a7a7a" stroke-width="0.9"/>
<line x1="212.5" y1="128.03" x2="214" y2="128.03" stroke="#7a7a7a" stroke-width="0.9"/>
<line x1="256.5" y1="128.03" x2="255" y2="128.03" stroke="#7a7a7a" stroke-width="0.9"/>
<line x1="212.5" y1="120" x2="214.7" y2="120" stroke="#7a7a7a" stroke-width="0.9"/>
<line x1="256.5" y1="120" x2="254.3" y2="120" stroke="#7a7a7a" stroke-width="0.9"/>
<line x1="212.5" y1="111.97" x2="214" y2="111.97" stroke="#7a7a7a" stroke-width="0.9"/>
<line x1="256.5" y1="111.97" x2="255" y2="111.97" stroke="#7a7a7a" stroke-width="0.9"/>
<line x1="212.5" y1="103.93" x2="214" y2="103.93" stroke="#7a7a7a" stroke-width="0.9"/>
<line x1="256.5" y1="103.93" x2="255" y2="103.93" stroke="#7a7a7a" stroke-width="0.9"/>
<line x1="212.5" y1="95.9" x2="214" y2="95.9" stroke="#7a7a7a" stroke-width="0.9"/>
<line x1="256.5" y1="95.9" x2="255" y2="95.9" stroke="#7a7a7a" stroke-width="0.9"/>
<line x1="212.5" y1="87.86" x2="214" y2="87.86" stroke="#7a7a7a" stroke-width="0.9"/>
<line x1="256.5" y1="87.86" x2="255" y2="87.86" stroke="#7a7a7a" stroke-width="0.9"/>
<line x1="212.5" y1="79.83" x2="214.7" y2="79.83" stroke="#7a7a7a" stroke-width="0.9"/>
<line x1="256.5" y1="79.83" x2="254.3" y2="79.83" stroke="#7a7a7a" stroke-width="0.9"/>
<line x1="212.5" y1="71.79" x2="214" y2="71.79" stroke="#7a7a7a" stroke-width="0.9"/>
<line x1="256.5" y1="71.79" x2="255" y2="71.79" stroke="#7a7a7a" stroke-width="0.9"/>
<line x1="212.5" y1="63.76" x2="214" y2="63.76" stroke="#7a7a7a" stroke-width="0.9"/>
<line x1="256.5" y1="63.76" x2="255" y2="63.76" stroke="#7a7a7a" stroke-width="0.9"/>
<line x1="212.5" y1="55.72" x2="214" y2="55.72" stroke="#7a7a7a" stroke-width="0.9"/>
<line x1="256.5" y1="55.72" x2="255" y2="55.72" stroke="#7a7a7a" stroke-width="0.9"/>
<line x1="212.5" y1="47.69" x2="214" y2="47.69" stroke="#7a7a7a" stroke-width="0.9"/>
<line x1="256.5" y1="47.69" x2="255" y2="47.69" stroke="#7a7a7a" stroke-width="0.9"/>
<line x1="212.5" y1="39.65" x2="214.7" y2="39.65" stroke="#7a7a7a" stroke-width="0.9"/>
<line x1="256.5" y1="39.65" x2="254.3" y2="39.65" stroke="#7a7a7a" stroke-width="0.9"/>
<polyline points="217,39.65 217,40.65 217,41.66 217,42.66 217,43.67 217,44.67 217,45.68 217,46.68 217,47.69 217,48.69 217,49.69 217,50.7 217,51.7 217,52.71 217,53.71 217,54.72 217,55.72 217,56.72 217,57.73 217,58.73 217,59.74 217,60.74 217,61.75 217,62.75 217,63.76 217,64.76 217,65.76 217,66.77 217.01,67.77 217.01,68.78 217.02,69.78 217.03,70.79 217.04,71.79 217.07,72.79 217.1,73.8 217.14,74.8 217.2,75.81 217.28,76.81 217.39,77.82 217.53,78.82 217.7,79.83 217.93,80.83 218.21,81.83 218.55,82.84 218.95,83.84 219.43,84.85 219.98,85.85 220.6,86.86 221.3,87.86 222.06,88.86 222.87,89.87 223.73,90.87 224.62,91.88 225.52,92.88 226.4,93.89 227.26,94.89 228.07,95.89 228.8,96.9 229.46,97.9 230.01,98.91 230.46,99.91 230.8,100.92 231.03,101.92 231.17,102.93 231.23,103.93 231.24,104.93 231.17,105.94 231.01,106.94 230.75,107.95 230.41,108.95 230,109.96 229.52,110.96 229.01,111.97 228.48,112.97 227.95,113.97 227.45,114.98 227.01,115.98 226.64,116.99 226.35,117.99 226.17,119 226.1,120 226.14,121 226.29,122.01 226.55,123.01 226.89,124.02 227.31,125.02 227.78,126.03 228.3,127.03 228.82,128.03 229.35,129.04 229.84,130.04 230.29,131.05 230.67,132.05 230.97,133.06 231.19,134.06 231.3,135.07 231.32,136.07 231.24,137.07 231.06,138.08 230.77,139.08 230.38,140.09 229.9,141.09 229.34,142.1 228.7,143.1 228.01,144.1 227.27,145.11 226.5,146.11 225.72,147.12 224.93,148.12 224.16,149.13 223.4,150.13 222.68,151.14 221.99,152.14 221.35,153.14 220.77,154.15 220.23,155.15 219.74,156.16 219.31,157.16 218.93,158.17 218.6,159.17 218.31,160.18 218.07,161.18 217.86,162.18 217.69,163.19 217.55,164.19 217.43,165.2 217.34,166.2 217.26,167.21 217.2,168.21 217.15,169.21 217.11,170.22 217.08,171.22 217.06,172.23 217.05,173.23 217.03,174.24 217.02,175.24 217.02,176.25 217.01,177.25 217.01,178.25 217.01,179.26 217,180.26 217,181.27 217,182.27 217,183.28 217,184.28 217,185.28 217,186.29 217,187.29 217,188.3 217,189.3 217,190.31 217,191.31 217,192.31 217,193.32 217,194.32 217,195.33 217,196.33 217,197.34 217,198.34 217,199.35 217,200.35" fill="none" stroke="#ff0000" stroke-width="1.1" stroke-linejoin="round"/>
<text class="lt" x="220.9" y="42.6" font-family="'Liberation Serif', 'Times New Roman', serif" font-size="6.9" fill="#1c1c1c" textLength="31.3" lengthAdjust="spacingAndGlyphs"><tspan font-style="italic">a</tspan>/<tspan font-style="italic">a</tspan><tspan font-size="5" dy="1.5">0</tspan><tspan dy="-1.5">= − 1.76</tspan></text>
<text x="217.3" y="28.3" font-family="'Liberation Serif', 'Times New Roman', serif" font-size="13" text-anchor="middle" fill="#000" style="stroke-width:0.1px">0</text>
<text x="245.9" y="28.3" font-family="'Liberation Serif', 'Times New Roman', serif" font-size="13" text-anchor="middle" fill="#000" style="stroke-width:0.1px">10</text>
<rect x="266.5" y="92.14" width="7.1" height="4.3" fill="#7d7d7d"/>
<rect x="266.5" y="98.57" width="18.3" height="4.3" fill="#7d7d7d"/>
<rect x="266.5" y="104.99" width="17.8" height="4.3" fill="#7d7d7d"/>
<rect x="266.5" y="111.42" width="32.6" height="4.3" fill="#7d7d7d"/>
<rect x="266.5" y="117.85" width="21.3" height="4.3" fill="#7d7d7d"/>
<rect x="266.5" y="124.28" width="24.3" height="4.3" fill="#7d7d7d"/>
<rect x="266.5" y="130.71" width="12.8" height="4.3" fill="#7d7d7d"/>
<rect x="266.5" y="137.13" width="15.5" height="4.3" fill="#7d7d7d"/>
<rect x="266.5" y="143.56" width="15.5" height="4.3" fill="#7d7d7d"/>
<rect x="266.5" y="149.99" width="7.3" height="4.3" fill="#7d7d7d"/>
<rect x="266.5" y="156.42" width="7.3" height="4.3" fill="#7d7d7d"/>
<rect x="264.5" y="31.5" width="44" height="177" fill="none" stroke="#a3a3a3" stroke-width="1"/>
<line x1="268.8" y1="31.5" x2="268.8" y2="33.5" stroke="#7a7a7a" stroke-width="0.9"/>
<line x1="268.8" y1="208.5" x2="268.8" y2="206.5" stroke="#7a7a7a" stroke-width="0.9"/>
<line x1="283" y1="31.5" x2="283" y2="33.5" stroke="#7a7a7a" stroke-width="0.9"/>
<line x1="283" y1="208.5" x2="283" y2="206.5" stroke="#7a7a7a" stroke-width="0.9"/>
<line x1="297.2" y1="31.5" x2="297.2" y2="33.5" stroke="#7a7a7a" stroke-width="0.9"/>
<line x1="297.2" y1="208.5" x2="297.2" y2="206.5" stroke="#7a7a7a" stroke-width="0.9"/>
<line x1="264.5" y1="200.35" x2="266.7" y2="200.35" stroke="#7a7a7a" stroke-width="0.9"/>
<line x1="308.5" y1="200.35" x2="306.3" y2="200.35" stroke="#7a7a7a" stroke-width="0.9"/>
<line x1="264.5" y1="192.31" x2="266" y2="192.31" stroke="#7a7a7a" stroke-width="0.9"/>
<line x1="308.5" y1="192.31" x2="307" y2="192.31" stroke="#7a7a7a" stroke-width="0.9"/>
<line x1="264.5" y1="184.28" x2="266" y2="184.28" stroke="#7a7a7a" stroke-width="0.9"/>
<line x1="308.5" y1="184.28" x2="307" y2="184.28" stroke="#7a7a7a" stroke-width="0.9"/>
<line x1="264.5" y1="176.25" x2="266" y2="176.25" stroke="#7a7a7a" stroke-width="0.9"/>
<line x1="308.5" y1="176.25" x2="307" y2="176.25" stroke="#7a7a7a" stroke-width="0.9"/>
<line x1="264.5" y1="168.21" x2="266" y2="168.21" stroke="#7a7a7a" stroke-width="0.9"/>
<line x1="308.5" y1="168.21" x2="307" y2="168.21" stroke="#7a7a7a" stroke-width="0.9"/>
<line x1="264.5" y1="160.18" x2="266.7" y2="160.18" stroke="#7a7a7a" stroke-width="0.9"/>
<line x1="308.5" y1="160.18" x2="306.3" y2="160.18" stroke="#7a7a7a" stroke-width="0.9"/>
<line x1="264.5" y1="152.14" x2="266" y2="152.14" stroke="#7a7a7a" stroke-width="0.9"/>
<line x1="308.5" y1="152.14" x2="307" y2="152.14" stroke="#7a7a7a" stroke-width="0.9"/>
<line x1="264.5" y1="144.1" x2="266" y2="144.1" stroke="#7a7a7a" stroke-width="0.9"/>
<line x1="308.5" y1="144.1" x2="307" y2="144.1" stroke="#7a7a7a" stroke-width="0.9"/>
<line x1="264.5" y1="136.07" x2="266" y2="136.07" stroke="#7a7a7a" stroke-width="0.9"/>
<line x1="308.5" y1="136.07" x2="307" y2="136.07" stroke="#7a7a7a" stroke-width="0.9"/>
<line x1="264.5" y1="128.03" x2="266" y2="128.03" stroke="#7a7a7a" stroke-width="0.9"/>
<line x1="308.5" y1="128.03" x2="307" y2="128.03" stroke="#7a7a7a" stroke-width="0.9"/>
<line x1="264.5" y1="120" x2="266.7" y2="120" stroke="#7a7a7a" stroke-width="0.9"/>
<line x1="308.5" y1="120" x2="306.3" y2="120" stroke="#7a7a7a" stroke-width="0.9"/>
<line x1="264.5" y1="111.97" x2="266" y2="111.97" stroke="#7a7a7a" stroke-width="0.9"/>
<line x1="308.5" y1="111.97" x2="307" y2="111.97" stroke="#7a7a7a" stroke-width="0.9"/>
<line x1="264.5" y1="103.93" x2="266" y2="103.93" stroke="#7a7a7a" stroke-width="0.9"/>
<line x1="308.5" y1="103.93" x2="307" y2="103.93" stroke="#7a7a7a" stroke-width="0.9"/>
<line x1="264.5" y1="95.9" x2="266" y2="95.9" stroke="#7a7a7a" stroke-width="0.9"/>
<line x1="308.5" y1="95.9" x2="307" y2="95.9" stroke="#7a7a7a" stroke-width="0.9"/>
<line x1="264.5" y1="87.86" x2="266" y2="87.86" stroke="#7a7a7a" stroke-width="0.9"/>
<line x1="308.5" y1="87.86" x2="307" y2="87.86" stroke="#7a7a7a" stroke-width="0.9"/>
<line x1="264.5" y1="79.83" x2="266.7" y2="79.83" stroke="#7a7a7a" stroke-width="0.9"/>
<line x1="308.5" y1="79.83" x2="306.3" y2="79.83" stroke="#7a7a7a" stroke-width="0.9"/>
<line x1="264.5" y1="71.79" x2="266" y2="71.79" stroke="#7a7a7a" stroke-width="0.9"/>
<line x1="308.5" y1="71.79" x2="307" y2="71.79" stroke="#7a7a7a" stroke-width="0.9"/>
<line x1="264.5" y1="63.76" x2="266" y2="63.76" stroke="#7a7a7a" stroke-width="0.9"/>
<line x1="308.5" y1="63.76" x2="307" y2="63.76" stroke="#7a7a7a" stroke-width="0.9"/>
<line x1="264.5" y1="55.72" x2="266" y2="55.72" stroke="#7a7a7a" stroke-width="0.9"/>
<line x1="308.5" y1="55.72" x2="307" y2="55.72" stroke="#7a7a7a" stroke-width="0.9"/>
<line x1="264.5" y1="47.69" x2="266" y2="47.69" stroke="#7a7a7a" stroke-width="0.9"/>
<line x1="308.5" y1="47.69" x2="307" y2="47.69" stroke="#7a7a7a" stroke-width="0.9"/>
<line x1="264.5" y1="39.65" x2="266.7" y2="39.65" stroke="#7a7a7a" stroke-width="0.9"/>
<line x1="308.5" y1="39.65" x2="306.3" y2="39.65" stroke="#7a7a7a" stroke-width="0.9"/>
<polyline points="268.8,39.65 268.8,40.65 268.8,41.66 268.8,42.66 268.8,43.67 268.8,44.67 268.8,45.68 268.8,46.68 268.8,47.69 268.8,48.69 268.8,49.69 268.8,50.7 268.8,51.7 268.8,52.71 268.81,53.71 268.81,54.72 268.81,55.72 268.81,56.72 268.82,57.73 268.82,58.73 268.83,59.74 268.84,60.74 268.84,61.75 268.86,62.75 268.87,63.76 268.89,64.76 268.91,65.76 268.93,66.77 268.96,67.77 268.99,68.78 269.03,69.78 269.08,70.79 269.14,71.79 269.21,72.79 269.29,73.8 269.38,74.8 269.48,75.81 269.6,76.81 269.74,77.82 269.9,78.82 270.08,79.83 270.28,80.83 270.51,81.83 270.76,82.84 271.04,83.84 271.35,84.85 271.69,85.85 272.07,86.86 272.48,87.86 272.92,88.86 273.4,89.87 273.91,90.87 274.46,91.88 275.04,92.88 275.66,93.89 276.3,94.89 276.98,95.89 277.68,96.9 278.4,97.9 279.14,98.91 279.9,99.91 280.66,100.92 281.43,101.92 282.2,102.93 282.97,103.93 283.72,104.93 284.45,105.94 285.16,106.94 285.83,107.95 286.48,108.95 287.08,109.96 287.63,110.96 288.13,111.97 288.58,112.97 288.97,113.97 289.3,114.98 289.56,115.98 289.77,116.99 289.9,117.99 289.98,119 290,120 289.97,121 289.88,122.01 289.73,123.01 289.51,124.02 289.23,125.02 288.89,126.03 288.49,127.03 288.03,128.03 287.52,129.04 286.95,130.04 286.34,131.05 285.69,132.05 285.01,133.06 284.3,134.06 283.56,135.07 282.8,136.07 282.04,137.07 281.27,138.08 280.5,139.08 279.74,140.09 278.98,141.09 278.24,142.1 277.53,143.1 276.83,144.1 276.16,145.11 275.52,146.11 274.92,147.12 274.34,148.12 273.8,149.13 273.29,150.13 272.82,151.14 272.39,152.14 271.99,153.14 271.62,154.15 271.28,155.15 270.98,156.16 270.7,157.16 270.46,158.17 270.23,159.17 270.04,160.18 269.86,161.18 269.71,162.18 269.58,163.19 269.46,164.19 269.36,165.2 269.27,166.2 269.19,167.21 269.13,168.21 269.07,169.21 269.03,170.22 268.99,171.22 268.95,172.23 268.92,173.23 268.9,174.24 268.88,175.24 268.87,176.25 268.85,177.25 268.84,178.25 268.83,179.26 268.83,180.26 268.82,181.27 268.82,182.27 268.81,183.28 268.81,184.28 268.81,185.28 268.81,186.29 268.8,187.29 268.8,188.3 268.8,189.3 268.8,190.31 268.8,191.31 268.8,192.31 268.8,193.32 268.8,194.32 268.8,195.33 268.8,196.33 268.8,197.34 268.8,198.34 268.8,199.35 268.8,200.35" fill="none" stroke="#ff0000" stroke-width="1.1" stroke-linejoin="round"/>
<text class="lt" x="271.8" y="42.6" font-family="'Liberation Serif', 'Times New Roman', serif" font-size="6.9" fill="#1c1c1c" textLength="30.8" lengthAdjust="spacingAndGlyphs"><tspan font-style="italic">a</tspan>/<tspan font-style="italic">a</tspan><tspan font-size="5" dy="1.5">0</tspan><tspan dy="-1.5">= − 1.68</tspan></text>
<text x="269.5" y="28.3" font-family="'Liberation Serif', 'Times New Roman', serif" font-size="13" text-anchor="middle" fill="#000" style="stroke-width:0.1px">0</text>
<text x="297.5" y="28.3" font-family="'Liberation Serif', 'Times New Roman', serif" font-size="13" text-anchor="middle" fill="#000" style="stroke-width:0.1px">10</text>
<rect x="318.2" y="92.14" width="7.4" height="4.3" fill="#7d7d7d"/>
<rect x="318.2" y="98.57" width="12.7" height="4.3" fill="#7d7d7d"/>
<rect x="318.2" y="104.99" width="12.6" height="4.3" fill="#7d7d7d"/>
<rect x="318.2" y="111.42" width="20.9" height="4.3" fill="#7d7d7d"/>
<rect x="318.2" y="117.85" width="35" height="4.3" fill="#7d7d7d"/>
<rect x="318.2" y="124.28" width="40.8" height="4.3" fill="#7d7d7d"/>
<rect x="318.2" y="130.71" width="12.4" height="4.3" fill="#7d7d7d"/>
<rect x="316.5" y="31.5" width="43" height="177" fill="none" stroke="#a3a3a3" stroke-width="1"/>
<line x1="320.5" y1="31.5" x2="320.5" y2="33.5" stroke="#7a7a7a" stroke-width="0.9"/>
<line x1="320.5" y1="208.5" x2="320.5" y2="206.5" stroke="#7a7a7a" stroke-width="0.9"/>
<line x1="334.7" y1="31.5" x2="334.7" y2="33.5" stroke="#7a7a7a" stroke-width="0.9"/>
<line x1="334.7" y1="208.5" x2="334.7" y2="206.5" stroke="#7a7a7a" stroke-width="0.9"/>
<line x1="348.9" y1="31.5" x2="348.9" y2="33.5" stroke="#7a7a7a" stroke-width="0.9"/>
<line x1="348.9" y1="208.5" x2="348.9" y2="206.5" stroke="#7a7a7a" stroke-width="0.9"/>
<line x1="316.5" y1="200.35" x2="318.7" y2="200.35" stroke="#7a7a7a" stroke-width="0.9"/>
<line x1="359.5" y1="200.35" x2="357.3" y2="200.35" stroke="#7a7a7a" stroke-width="0.9"/>
<line x1="316.5" y1="192.31" x2="318" y2="192.31" stroke="#7a7a7a" stroke-width="0.9"/>
<line x1="359.5" y1="192.31" x2="358" y2="192.31" stroke="#7a7a7a" stroke-width="0.9"/>
<line x1="316.5" y1="184.28" x2="318" y2="184.28" stroke="#7a7a7a" stroke-width="0.9"/>
<line x1="359.5" y1="184.28" x2="358" y2="184.28" stroke="#7a7a7a" stroke-width="0.9"/>
<line x1="316.5" y1="176.25" x2="318" y2="176.25" stroke="#7a7a7a" stroke-width="0.9"/>
<line x1="359.5" y1="176.25" x2="358" y2="176.25" stroke="#7a7a7a" stroke-width="0.9"/>
<line x1="316.5" y1="168.21" x2="318" y2="168.21" stroke="#7a7a7a" stroke-width="0.9"/>
<line x1="359.5" y1="168.21" x2="358" y2="168.21" stroke="#7a7a7a" stroke-width="0.9"/>
<line x1="316.5" y1="160.18" x2="318.7" y2="160.18" stroke="#7a7a7a" stroke-width="0.9"/>
<line x1="359.5" y1="160.18" x2="357.3" y2="160.18" stroke="#7a7a7a" stroke-width="0.9"/>
<line x1="316.5" y1="152.14" x2="318" y2="152.14" stroke="#7a7a7a" stroke-width="0.9"/>
<line x1="359.5" y1="152.14" x2="358" y2="152.14" stroke="#7a7a7a" stroke-width="0.9"/>
<line x1="316.5" y1="144.1" x2="318" y2="144.1" stroke="#7a7a7a" stroke-width="0.9"/>
<line x1="359.5" y1="144.1" x2="358" y2="144.1" stroke="#7a7a7a" stroke-width="0.9"/>
<line x1="316.5" y1="136.07" x2="318" y2="136.07" stroke="#7a7a7a" stroke-width="0.9"/>
<line x1="359.5" y1="136.07" x2="358" y2="136.07" stroke="#7a7a7a" stroke-width="0.9"/>
<line x1="316.5" y1="128.03" x2="318" y2="128.03" stroke="#7a7a7a" stroke-width="0.9"/>
<line x1="359.5" y1="128.03" x2="358" y2="128.03" stroke="#7a7a7a" stroke-width="0.9"/>
<line x1="316.5" y1="120" x2="318.7" y2="120" stroke="#7a7a7a" stroke-width="0.9"/>
<line x1="359.5" y1="120" x2="357.3" y2="120" stroke="#7a7a7a" stroke-width="0.9"/>
<line x1="316.5" y1="111.97" x2="318" y2="111.97" stroke="#7a7a7a" stroke-width="0.9"/>
<line x1="359.5" y1="111.97" x2="358" y2="111.97" stroke="#7a7a7a" stroke-width="0.9"/>
<line x1="316.5" y1="103.93" x2="318" y2="103.93" stroke="#7a7a7a" stroke-width="0.9"/>
<line x1="359.5" y1="103.93" x2="358" y2="103.93" stroke="#7a7a7a" stroke-width="0.9"/>
<line x1="316.5" y1="95.9" x2="318" y2="95.9" stroke="#7a7a7a" stroke-width="0.9"/>
<line x1="359.5" y1="95.9" x2="358" y2="95.9" stroke="#7a7a7a" stroke-width="0.9"/>
<line x1="316.5" y1="87.86" x2="318" y2="87.86" stroke="#7a7a7a" stroke-width="0.9"/>
<line x1="359.5" y1="87.86" x2="358" y2="87.86" stroke="#7a7a7a" stroke-width="0.9"/>
<line x1="316.5" y1="79.83" x2="318.7" y2="79.83" stroke="#7a7a7a" stroke-width="0.9"/>
<line x1="359.5" y1="79.83" x2="357.3" y2="79.83" stroke="#7a7a7a" stroke-width="0.9"/>
<line x1="316.5" y1="71.79" x2="318" y2="71.79" stroke="#7a7a7a" stroke-width="0.9"/>
<line x1="359.5" y1="71.79" x2="358" y2="71.79" stroke="#7a7a7a" stroke-width="0.9"/>
<line x1="316.5" y1="63.76" x2="318" y2="63.76" stroke="#7a7a7a" stroke-width="0.9"/>
<line x1="359.5" y1="63.76" x2="358" y2="63.76" stroke="#7a7a7a" stroke-width="0.9"/>
<line x1="316.5" y1="55.72" x2="318" y2="55.72" stroke="#7a7a7a" stroke-width="0.9"/>
<line x1="359.5" y1="55.72" x2="358" y2="55.72" stroke="#7a7a7a" stroke-width="0.9"/>
<line x1="316.5" y1="47.69" x2="318" y2="47.69" stroke="#7a7a7a" stroke-width="0.9"/>
<line x1="359.5" y1="47.69" x2="358" y2="47.69" stroke="#7a7a7a" stroke-width="0.9"/>
<line x1="316.5" y1="39.65" x2="318.7" y2="39.65" stroke="#7a7a7a" stroke-width="0.9"/>
<line x1="359.5" y1="39.65" x2="357.3" y2="39.65" stroke="#7a7a7a" stroke-width="0.9"/>
<polyline points="320.5,39.65 320.5,40.65 320.5,41.66 320.5,42.66 320.5,43.67 320.5,44.67 320.5,45.68 320.5,46.68 320.5,47.69 320.5,48.69 320.5,49.69 320.5,50.7 320.5,51.7 320.5,52.71 320.5,53.71 320.5,54.72 320.5,55.72 320.5,56.72 320.5,57.73 320.5,58.73 320.5,59.74 320.5,60.74 320.5,61.75 320.5,62.75 320.5,63.76 320.5,64.76 320.5,65.76 320.5,66.77 320.5,67.77 320.5,68.78 320.5,69.78 320.5,70.79 320.5,71.79 320.5,72.79 320.5,73.8 320.5,74.8 320.5,75.81 320.5,76.81 320.5,77.82 320.5,78.82 320.5,79.83 320.5,80.83 320.5,81.83 320.5,82.84 320.5,83.84 320.5,84.85 320.5,85.85 320.5,86.86 320.5,87.86 320.5,88.86 320.5,89.87 320.5,90.87 320.51,91.88 320.51,92.88 320.52,93.89 320.54,94.89 320.57,95.89 320.61,96.9 320.67,97.9 320.77,98.91 320.91,99.91 321.11,100.92 321.4,101.92 321.79,102.93 322.33,103.93 323.03,104.93 323.93,105.94 325.06,106.94 326.46,107.95 328.14,108.95 330.12,109.96 332.37,110.96 334.89,111.97 337.61,112.97 340.48,113.97 343.4,114.98 346.28,115.98 349,116.99 351.45,117.99 353.52,119 355.12,120 356.18,121 356.67,122.01 356.62,123.01 356,124.02 354.82,125.02 353.12,126.03 350.96,127.03 348.44,128.03 345.68,129.04 342.78,130.04 339.86,131.05 337.02,132.05 334.33,133.06 331.87,134.06 329.67,135.07 327.76,136.07 326.14,137.07 324.8,138.08 323.72,139.08 322.86,140.09 322.2,141.09 321.7,142.1 321.33,143.1 321.06,144.1 320.88,145.11 320.75,146.11 320.66,147.12 320.6,148.12 320.56,149.13 320.54,150.13 320.52,151.14 320.51,152.14 320.51,153.14 320.5,154.15 320.5,155.15 320.5,156.16 320.5,157.16 320.5,158.17 320.5,159.17 320.5,160.18 320.5,161.18 320.5,162.18 320.5,163.19 320.5,164.19 320.5,165.2 320.5,166.2 320.5,167.21 320.5,168.21 320.5,169.21 320.5,170.22 320.5,171.22 320.5,172.23 320.5,173.23 320.5,174.24 320.5,175.24 320.5,176.25 320.5,177.25 320.5,178.25 320.5,179.26 320.5,180.26 320.5,181.27 320.5,182.27 320.5,183.28 320.5,184.28 320.5,185.28 320.5,186.29 320.5,187.29 320.5,188.3 320.5,189.3 320.5,190.31 320.5,191.31 320.5,192.31 320.5,193.32 320.5,194.32 320.5,195.33 320.5,196.33 320.5,197.34 320.5,198.34 320.5,199.35 320.5,200.35" fill="none" stroke="#ff0000" stroke-width="1.1" stroke-linejoin="round"/>
<text class="lt" x="322.9" y="42.6" font-family="'Liberation Serif', 'Times New Roman', serif" font-size="6.9" fill="#1c1c1c" textLength="31.2" lengthAdjust="spacingAndGlyphs"><tspan font-style="italic">a</tspan>/<tspan font-style="italic">a</tspan><tspan font-size="5" dy="1.5">0</tspan><tspan dy="-1.5">= − 1.44</tspan></text>
<text x="321.2" y="28.3" font-family="'Liberation Serif', 'Times New Roman', serif" font-size="13" text-anchor="middle" fill="#000" style="stroke-width:0.1px">0</text>
<text x="349.6" y="28.3" font-family="'Liberation Serif', 'Times New Roman', serif" font-size="13" text-anchor="middle" fill="#000" style="stroke-width:0.1px">10</text>
<rect x="369.8" y="92.14" width="7.1" height="4.3" fill="#7d7d7d"/>
<rect x="369.8" y="98.57" width="7.1" height="4.3" fill="#7d7d7d"/>
<rect x="369.8" y="104.99" width="15.6" height="4.3" fill="#7d7d7d"/>
<rect x="369.8" y="111.42" width="24.1" height="4.3" fill="#7d7d7d"/>
<rect x="369.8" y="117.85" width="32.3" height="4.3" fill="#7d7d7d"/>
<rect x="369.8" y="124.28" width="27" height="4.3" fill="#7d7d7d"/>
<rect x="369.8" y="130.71" width="13" height="4.3" fill="#7d7d7d"/>
<rect x="367.5" y="31.5" width="44" height="177" fill="none" stroke="#a3a3a3" stroke-width="1"/>
<line x1="371.9" y1="31.5" x2="371.9" y2="33.5" stroke="#7a7a7a" stroke-width="0.9"/>
<line x1="371.9" y1="208.5" x2="371.9" y2="206.5" stroke="#7a7a7a" stroke-width="0.9"/>
<line x1="386.1" y1="31.5" x2="386.1" y2="33.5" stroke="#7a7a7a" stroke-width="0.9"/>
<line x1="386.1" y1="208.5" x2="386.1" y2="206.5" stroke="#7a7a7a" stroke-width="0.9"/>
<line x1="400.3" y1="31.5" x2="400.3" y2="33.5" stroke="#7a7a7a" stroke-width="0.9"/>
<line x1="400.3" y1="208.5" x2="400.3" y2="206.5" stroke="#7a7a7a" stroke-width="0.9"/>
<line x1="367.5" y1="200.35" x2="369.7" y2="200.35" stroke="#7a7a7a" stroke-width="0.9"/>
<line x1="411.5" y1="200.35" x2="409.3" y2="200.35" stroke="#7a7a7a" stroke-width="0.9"/>
<line x1="367.5" y1="192.31" x2="369" y2="192.31" stroke="#7a7a7a" stroke-width="0.9"/>
<line x1="411.5" y1="192.31" x2="410" y2="192.31" stroke="#7a7a7a" stroke-width="0.9"/>
<line x1="367.5" y1="184.28" x2="369" y2="184.28" stroke="#7a7a7a" stroke-width="0.9"/>
<line x1="411.5" y1="184.28" x2="410" y2="184.28" stroke="#7a7a7a" stroke-width="0.9"/>
<line x1="367.5" y1="176.25" x2="369" y2="176.25" stroke="#7a7a7a" stroke-width="0.9"/>
<line x1="411.5" y1="176.25" x2="410" y2="176.25" stroke="#7a7a7a" stroke-width="0.9"/>
<line x1="367.5" y1="168.21" x2="369" y2="168.21" stroke="#7a7a7a" stroke-width="0.9"/>
<line x1="411.5" y1="168.21" x2="410" y2="168.21" stroke="#7a7a7a" stroke-width="0.9"/>
<line x1="367.5" y1="160.18" x2="369.7" y2="160.18" stroke="#7a7a7a" stroke-width="0.9"/>
<line x1="411.5" y1="160.18" x2="409.3" y2="160.18" stroke="#7a7a7a" stroke-width="0.9"/>
<line x1="367.5" y1="152.14" x2="369" y2="152.14" stroke="#7a7a7a" stroke-width="0.9"/>
<line x1="411.5" y1="152.14" x2="410" y2="152.14" stroke="#7a7a7a" stroke-width="0.9"/>
<line x1="367.5" y1="144.1" x2="369" y2="144.1" stroke="#7a7a7a" stroke-width="0.9"/>
<line x1="411.5" y1="144.1" x2="410" y2="144.1" stroke="#7a7a7a" stroke-width="0.9"/>
<line x1="367.5" y1="136.07" x2="369" y2="136.07" stroke="#7a7a7a" stroke-width="0.9"/>
<line x1="411.5" y1="136.07" x2="410" y2="136.07" stroke="#7a7a7a" stroke-width="0.9"/>
<line x1="367.5" y1="128.03" x2="369" y2="128.03" stroke="#7a7a7a" stroke-width="0.9"/>
<line x1="411.5" y1="128.03" x2="410" y2="128.03" stroke="#7a7a7a" stroke-width="0.9"/>
<line x1="367.5" y1="120" x2="369.7" y2="120" stroke="#7a7a7a" stroke-width="0.9"/>
<line x1="411.5" y1="120" x2="409.3" y2="120" stroke="#7a7a7a" stroke-width="0.9"/>
<line x1="367.5" y1="111.97" x2="369" y2="111.97" stroke="#7a7a7a" stroke-width="0.9"/>
<line x1="411.5" y1="111.97" x2="410" y2="111.97" stroke="#7a7a7a" stroke-width="0.9"/>
<line x1="367.5" y1="103.93" x2="369" y2="103.93" stroke="#7a7a7a" stroke-width="0.9"/>
<line x1="411.5" y1="103.93" x2="410" y2="103.93" stroke="#7a7a7a" stroke-width="0.9"/>
<line x1="367.5" y1="95.9" x2="369" y2="95.9" stroke="#7a7a7a" stroke-width="0.9"/>
<line x1="411.5" y1="95.9" x2="410" y2="95.9" stroke="#7a7a7a" stroke-width="0.9"/>
<line x1="367.5" y1="87.86" x2="369" y2="87.86" stroke="#7a7a7a" stroke-width="0.9"/>
<line x1="411.5" y1="87.86" x2="410" y2="87.86" stroke="#7a7a7a" stroke-width="0.9"/>
<line x1="367.5" y1="79.83" x2="369.7" y2="79.83" stroke="#7a7a7a" stroke-width="0.9"/>
<line x1="411.5" y1="79.83" x2="409.3" y2="79.83" stroke="#7a7a7a" stroke-width="0.9"/>
<line x1="367.5" y1="71.79" x2="369" y2="71.79" stroke="#7a7a7a" stroke-width="0.9"/>
<line x1="411.5" y1="71.79" x2="410" y2="71.79" stroke="#7a7a7a" stroke-width="0.9"/>
<line x1="367.5" y1="63.76" x2="369" y2="63.76" stroke="#7a7a7a" stroke-width="0.9"/>
<line x1="411.5" y1="63.76" x2="410" y2="63.76" stroke="#7a7a7a" stroke-width="0.9"/>
<line x1="367.5" y1="55.72" x2="369" y2="55.72" stroke="#7a7a7a" stroke-width="0.9"/>
<line x1="411.5" y1="55.72" x2="410" y2="55.72" stroke="#7a7a7a" stroke-width="0.9"/>
<line x1="367.5" y1="47.69" x2="369" y2="47.69" stroke="#7a7a7a" stroke-width="0.9"/>
<line x1="411.5" y1="47.69" x2="410" y2="47.69" stroke="#7a7a7a" stroke-width="0.9"/>
<line x1="367.5" y1="39.65" x2="369.7" y2="39.65" stroke="#7a7a7a" stroke-width="0.9"/>
<line x1="411.5" y1="39.65" x2="409.3" y2="39.65" stroke="#7a7a7a" stroke-width="0.9"/>
<polyline points="371.9,39.65 371.9,40.65 371.9,41.66 371.9,42.66 371.9,43.67 371.9,44.67 371.9,45.68 371.9,46.68 371.9,47.69 371.9,48.69 371.9,49.69 371.9,50.7 371.9,51.7 371.9,52.71 371.9,53.71 371.9,54.72 371.9,55.72 371.9,56.72 371.9,57.73 371.9,58.73 371.9,59.74 371.9,60.74 371.9,61.75 371.9,62.75 371.9,63.76 371.9,64.76 371.9,65.76 371.9,66.77 371.9,67.77 371.9,68.78 371.9,69.78 371.9,70.79 371.9,71.79 371.9,72.79 371.9,73.8 371.9,74.8 371.9,75.81 371.9,76.81 371.9,77.82 371.9,78.82 371.9,79.83 371.9,80.83 371.9,81.83 371.9,82.84 371.9,83.84 371.9,84.85 371.9,85.85 371.91,86.86 371.91,87.86 371.92,88.86 371.93,89.87 371.94,90.87 371.97,91.88 372.01,92.88 372.07,93.89 372.15,94.89 372.27,95.89 372.44,96.9 372.68,97.9 373,98.91 373.42,99.91 373.96,100.92 374.65,101.92 375.5,102.93 376.53,103.93 377.75,104.93 379.16,105.94 380.76,106.94 382.53,107.95 384.44,108.95 386.44,109.96 388.49,110.96 390.52,111.97 392.46,112.97 394.26,113.97 395.84,114.98 397.15,115.98 398.16,116.99 398.82,117.99 399.15,119 399.19,120 398.93,121 398.35,122.01 397.42,123.01 396.18,124.02 394.66,125.02 392.91,126.03 390.99,127.03 388.98,128.03 386.93,129.04 384.91,130.04 382.98,131.05 381.17,132.05 379.53,133.06 378.07,134.06 376.8,135.07 375.73,136.07 374.84,137.07 374.11,138.08 373.54,139.08 373.09,140.09 372.75,141.09 372.49,142.1 372.31,143.1 372.18,144.1 372.08,145.11 372.02,146.11 371.98,147.12 371.95,148.12 371.93,149.13 371.92,150.13 371.91,151.14 371.91,152.14 371.9,153.14 371.9,154.15 371.9,155.15 371.9,156.16 371.9,157.16 371.9,158.17 371.9,159.17 371.9,160.18 371.9,161.18 371.9,162.18 371.9,163.19 371.9,164.19 371.9,165.2 371.9,166.2 371.9,167.21 371.9,168.21 371.9,169.21 371.9,170.22 371.9,171.22 371.9,172.23 371.9,173.23 371.9,174.24 371.9,175.24 371.9,176.25 371.9,177.25 371.9,178.25 371.9,179.26 371.9,180.26 371.9,181.27 371.9,182.27 371.9,183.28 371.9,184.28 371.9,185.28 371.9,186.29 371.9,187.29 371.9,188.3 371.9,189.3 371.9,190.31 371.9,191.31 371.9,192.31 371.9,193.32 371.9,194.32 371.9,195.33 371.9,196.33 371.9,197.34 371.9,198.34 371.9,199.35 371.9,200.35" fill="none" stroke="#ff0000" stroke-width="1.1" stroke-linejoin="round"/>
<text class="lt" x="377" y="42.6" font-family="'Liberation Serif', 'Times New Roman', serif" font-size="6.9" fill="#1c1c1c" textLength="20" lengthAdjust="spacingAndGlyphs"><tspan font-style="italic">a</tspan>/<tspan font-style="italic">a</tspan><tspan font-size="5" dy="1.5">0</tspan><tspan dy="-1.5">=   0</tspan></text>
<text x="372.05" y="28.3" font-family="'Liberation Serif', 'Times New Roman', serif" font-size="13" text-anchor="middle" fill="#000" style="stroke-width:0.1px">0</text>
<text x="401.35" y="28.3" font-family="'Liberation Serif', 'Times New Roman', serif" font-size="13" text-anchor="middle" fill="#000" style="stroke-width:0.1px">10</text>
<text x="52.6" y="43.2" font-family="'Liberation Serif', 'Times New Roman', serif" font-size="15" text-anchor="end">1</text>
<text x="52.6" y="84.7" font-family="'Liberation Serif', 'Times New Roman', serif" font-size="15" text-anchor="end">0.5</text>
<text x="52.6" y="125.5" font-family="'Liberation Serif', 'Times New Roman', serif" font-size="15" text-anchor="end">0</text>
<text x="52.6" y="164.7" font-family="'Liberation Serif', 'Times New Roman', serif" font-size="15" text-anchor="end">-0.5</text>
<text x="52.6" y="204.7" font-family="'Liberation Serif', 'Times New Roman', serif" font-size="15" text-anchor="end">-1</text>
<text transform="translate(17.6,120) rotate(-90)" font-family="'Liberation Serif', 'Times New Roman', serif" font-size="19" text-anchor="middle" style="stroke-width:0.1px">z</text>
<text x="11.5" y="21.9" font-family="'Liberation Serif', 'Times New Roman', serif" font-size="19">(a)</text>
<text x="234.2" y="12.4" font-family="'Liberation Serif', 'Times New Roman', serif" font-size="18.5" text-anchor="middle" style="stroke-width:0.55px">counts</text>
<rect x="58.5" y="211.5" width="352.5" height="253.4" fill="none" stroke="#1a1a1a" stroke-width="1.35"/>
<line x1="58.5" y1="296.2" x2="411" y2="296.2" stroke="#505050" stroke-width="2"/>
<line x1="58.5" y1="380.45" x2="411" y2="380.45" stroke="#111" stroke-width="1.35"/>
<line x1="69.29" y1="211.5" x2="69.29" y2="215.7" stroke="#000" stroke-width="1.2"/>
<line x1="69.29" y1="292" x2="69.29" y2="300.4" stroke="#000" stroke-width="1.2"/>
<line x1="69.29" y1="376.25" x2="69.29" y2="384.65" stroke="#000" stroke-width="1.2"/>
<line x1="69.29" y1="464.9" x2="69.29" y2="469.1" stroke="#000" stroke-width="1.2"/>
<line x1="96.86" y1="211.5" x2="96.86" y2="214" stroke="#000" stroke-width="1.2"/>
<line x1="96.86" y1="293.7" x2="96.86" y2="298.7" stroke="#000" stroke-width="1.2"/>
<line x1="96.86" y1="377.95" x2="96.86" y2="382.95" stroke="#000" stroke-width="1.2"/>
<line x1="96.86" y1="464.9" x2="96.86" y2="467.4" stroke="#000" stroke-width="1.2"/>
<line x1="124.43" y1="211.5" x2="124.43" y2="215.7" stroke="#000" stroke-width="1.2"/>
<line x1="124.43" y1="292" x2="124.43" y2="300.4" stroke="#000" stroke-width="1.2"/>
<line x1="124.43" y1="376.25" x2="124.43" y2="384.65" stroke="#000" stroke-width="1.2"/>
<line x1="124.43" y1="464.9" x2="124.43" y2="469.1" stroke="#000" stroke-width="1.2"/>
<line x1="151.99" y1="211.5" x2="151.99" y2="214" stroke="#000" stroke-width="1.2"/>
<line x1="151.99" y1="293.7" x2="151.99" y2="298.7" stroke="#000" stroke-width="1.2"/>
<line x1="151.99" y1="377.95" x2="151.99" y2="382.95" stroke="#000" stroke-width="1.2"/>
<line x1="151.99" y1="464.9" x2="151.99" y2="467.4" stroke="#000" stroke-width="1.2"/>
<line x1="179.56" y1="211.5" x2="179.56" y2="215.7" stroke="#000" stroke-width="1.2"/>
<line x1="179.56" y1="292" x2="179.56" y2="300.4" stroke="#000" stroke-width="1.2"/>
<line x1="179.56" y1="376.25" x2="179.56" y2="384.65" stroke="#000" stroke-width="1.2"/>
<line x1="179.56" y1="464.9" x2="179.56" y2="469.1" stroke="#000" stroke-width="1.2"/>
<line x1="207.13" y1="211.5" x2="207.13" y2="214" stroke="#000" stroke-width="1.2"/>
<line x1="207.13" y1="293.7" x2="207.13" y2="298.7" stroke="#000" stroke-width="1.2"/>
<line x1="207.13" y1="377.95" x2="207.13" y2="382.95" stroke="#000" stroke-width="1.2"/>
<line x1="207.13" y1="464.9" x2="207.13" y2="467.4" stroke="#000" stroke-width="1.2"/>
<line x1="234.7" y1="211.5" x2="234.7" y2="215.7" stroke="#000" stroke-width="1.2"/>
<line x1="234.7" y1="292" x2="234.7" y2="300.4" stroke="#000" stroke-width="1.2"/>
<line x1="234.7" y1="376.25" x2="234.7" y2="384.65" stroke="#000" stroke-width="1.2"/>
<line x1="234.7" y1="464.9" x2="234.7" y2="469.1" stroke="#000" stroke-width="1.2"/>
<line x1="262.26" y1="211.5" x2="262.26" y2="214" stroke="#000" stroke-width="1.2"/>
<line x1="262.26" y1="293.7" x2="262.26" y2="298.7" stroke="#000" stroke-width="1.2"/>
<line x1="262.26" y1="377.95" x2="262.26" y2="382.95" stroke="#000" stroke-width="1.2"/>
<line x1="262.26" y1="464.9" x2="262.26" y2="467.4" stroke="#000" stroke-width="1.2"/>
<line x1="289.83" y1="211.5" x2="289.83" y2="215.7" stroke="#000" stroke-width="1.2"/>
<line x1="289.83" y1="292" x2="289.83" y2="300.4" stroke="#000" stroke-width="1.2"/>
<line x1="289.83" y1="376.25" x2="289.83" y2="384.65" stroke="#000" stroke-width="1.2"/>
<line x1="289.83" y1="464.9" x2="289.83" y2="469.1" stroke="#000" stroke-width="1.2"/>
<line x1="317.4" y1="211.5" x2="317.4" y2="214" stroke="#000" stroke-width="1.2"/>
<line x1="317.4" y1="293.7" x2="317.4" y2="298.7" stroke="#000" stroke-width="1.2"/>
<line x1="317.4" y1="377.95" x2="317.4" y2="382.95" stroke="#000" stroke-width="1.2"/>
<line x1="317.4" y1="464.9" x2="317.4" y2="467.4" stroke="#000" stroke-width="1.2"/>
<line x1="344.97" y1="211.5" x2="344.97" y2="215.7" stroke="#000" stroke-width="1.2"/>
<line x1="344.97" y1="292" x2="344.97" y2="300.4" stroke="#000" stroke-width="1.2"/>
<line x1="344.97" y1="376.25" x2="344.97" y2="384.65" stroke="#000" stroke-width="1.2"/>
<line x1="344.97" y1="464.9" x2="344.97" y2="469.1" stroke="#000" stroke-width="1.2"/>
<line x1="372.53" y1="211.5" x2="372.53" y2="214" stroke="#000" stroke-width="1.2"/>
<line x1="372.53" y1="293.7" x2="372.53" y2="298.7" stroke="#000" stroke-width="1.2"/>
<line x1="372.53" y1="377.95" x2="372.53" y2="382.95" stroke="#000" stroke-width="1.2"/>
<line x1="372.53" y1="464.9" x2="372.53" y2="467.4" stroke="#000" stroke-width="1.2"/>
<line x1="400.1" y1="211.5" x2="400.1" y2="215.7" stroke="#000" stroke-width="1.2"/>
<line x1="400.1" y1="292" x2="400.1" y2="300.4" stroke="#000" stroke-width="1.2"/>
<line x1="400.1" y1="376.25" x2="400.1" y2="384.65" stroke="#000" stroke-width="1.2"/>
<line x1="400.1" y1="464.9" x2="400.1" y2="469.1" stroke="#000" stroke-width="1.2"/>
<line x1="54.1" y1="284" x2="58.5" y2="284" stroke="#000" stroke-width="1.1"/>
<line x1="411" y1="284" x2="407" y2="284" stroke="#000" stroke-width="1.1"/>
<line x1="56.1" y1="268.82" x2="58.5" y2="268.82" stroke="#000" stroke-width="1.1"/>
<line x1="411" y1="268.82" x2="409" y2="268.82" stroke="#000" stroke-width="1.1"/>
<line x1="54.1" y1="253.65" x2="58.5" y2="253.65" stroke="#000" stroke-width="1.1"/>
<line x1="411" y1="253.65" x2="407" y2="253.65" stroke="#000" stroke-width="1.1"/>
<line x1="56.1" y1="238.47" x2="58.5" y2="238.47" stroke="#000" stroke-width="1.1"/>
<line x1="411" y1="238.47" x2="409" y2="238.47" stroke="#000" stroke-width="1.1"/>
<line x1="54.1" y1="223.3" x2="58.5" y2="223.3" stroke="#000" stroke-width="1.1"/>
<line x1="411" y1="223.3" x2="407" y2="223.3" stroke="#000" stroke-width="1.1"/>
<line x1="54.1" y1="374.2" x2="58.5" y2="374.2" stroke="#000" stroke-width="1.1"/>
<line x1="411" y1="374.2" x2="407" y2="374.2" stroke="#000" stroke-width="1.1"/>
<line x1="56.1" y1="358.7" x2="58.5" y2="358.7" stroke="#000" stroke-width="1.1"/>
<line x1="411" y1="358.7" x2="409" y2="358.7" stroke="#000" stroke-width="1.1"/>
<line x1="54.1" y1="343.2" x2="58.5" y2="343.2" stroke="#000" stroke-width="1.1"/>
<line x1="411" y1="343.2" x2="407" y2="343.2" stroke="#000" stroke-width="1.1"/>
<line x1="56.1" y1="327.7" x2="58.5" y2="327.7" stroke="#000" stroke-width="1.1"/>
<line x1="411" y1="327.7" x2="409" y2="327.7" stroke="#000" stroke-width="1.1"/>
<line x1="54.1" y1="312.2" x2="58.5" y2="312.2" stroke="#000" stroke-width="1.1"/>
<line x1="411" y1="312.2" x2="407" y2="312.2" stroke="#000" stroke-width="1.1"/>
<line x1="54.1" y1="458.6" x2="58.5" y2="458.6" stroke="#000" stroke-width="1.1"/>
<line x1="411" y1="458.6" x2="407" y2="458.6" stroke="#000" stroke-width="1.1"/>
<line x1="56.1" y1="443.2" x2="58.5" y2="443.2" stroke="#000" stroke-width="1.1"/>
<line x1="411" y1="443.2" x2="409" y2="443.2" stroke="#000" stroke-width="1.1"/>
<line x1="54.1" y1="427.8" x2="58.5" y2="427.8" stroke="#000" stroke-width="1.1"/>
<line x1="411" y1="427.8" x2="407" y2="427.8" stroke="#000" stroke-width="1.1"/>
<line x1="56.1" y1="412.4" x2="58.5" y2="412.4" stroke="#000" stroke-width="1.1"/>
<line x1="411" y1="412.4" x2="409" y2="412.4" stroke="#000" stroke-width="1.1"/>
<line x1="54.1" y1="397" x2="58.5" y2="397" stroke="#000" stroke-width="1.1"/>
<line x1="411" y1="397" x2="407" y2="397" stroke="#000" stroke-width="1.1"/>
<line x1="56.1" y1="296.2" x2="58.5" y2="296.2" stroke="#000" stroke-width="1.1"/>
<line x1="56.1" y1="380.45" x2="58.5" y2="380.45" stroke="#000" stroke-width="1.1"/>
<text x="52.6" y="228.3" font-family="'Liberation Serif', 'Times New Roman', serif" font-size="15" text-anchor="end">1</text>
<text x="52.6" y="258.65" font-family="'Liberation Serif', 'Times New Roman', serif" font-size="15" text-anchor="end">0.5</text>
<text x="52.6" y="289" font-family="'Liberation Serif', 'Times New Roman', serif" font-size="15" text-anchor="end">0</text>
<text x="52.8" y="317.2" font-family="'Liberation Serif', 'Times New Roman', serif" font-size="15" text-anchor="end" letter-spacing="-0.2">1550</text>
<text x="52.8" y="402" font-family="'Liberation Serif', 'Times New Roman', serif" font-size="15" text-anchor="end" letter-spacing="-0.2">1550</text>
<text x="52.8" y="348.2" font-family="'Liberation Serif', 'Times New Roman', serif" font-size="15" text-anchor="end" letter-spacing="-0.2">750</text>
<text x="52.8" y="432.8" font-family="'Liberation Serif', 'Times New Roman', serif" font-size="15" text-anchor="end" letter-spacing="-0.2">750</text>
<text x="52.8" y="379.2" font-family="'Liberation Serif', 'Times New Roman', serif" font-size="15" text-anchor="end" letter-spacing="-0.2">0</text>
<text x="52.8" y="463.6" font-family="'Liberation Serif', 'Times New Roman', serif" font-size="15" text-anchor="end" letter-spacing="-0.2">0</text>
<text x="68.29" y="482.5" font-family="'Liberation Serif', 'Times New Roman', serif" font-size="15.4" text-anchor="middle">-3</text>
<text x="123.43" y="482.5" font-family="'Liberation Serif', 'Times New Roman', serif" font-size="15.4" text-anchor="middle">-2.5</text>
<text x="178.56" y="482.5" font-family="'Liberation Serif', 'Times New Roman', serif" font-size="15.4" text-anchor="middle">-2</text>
<text x="233.7" y="482.5" font-family="'Liberation Serif', 'Times New Roman', serif" font-size="15.4" text-anchor="middle">-1.5</text>
<text x="288.83" y="482.5" font-family="'Liberation Serif', 'Times New Roman', serif" font-size="15.4" text-anchor="middle">-1</text>
<text x="343.97" y="482.5" font-family="'Liberation Serif', 'Times New Roman', serif" font-size="15.4" text-anchor="middle">-0.5</text>
<text x="400.1" y="482.5" font-family="'Liberation Serif', 'Times New Roman', serif" font-size="15.4" text-anchor="middle">0</text>
<text x="65.3" y="278.6" font-family="'Liberation Serif', 'Times New Roman', serif" font-size="19">(b)</text>
<text x="65.1" y="323.4" font-family="'Liberation Serif', 'Times New Roman', serif" font-size="19">(c)</text>
<text x="65.1" y="407.0" font-family="'Liberation Serif', 'Times New Roman', serif" font-size="19">(d)</text>
<text transform="translate(19.38,277.5) rotate(-90) scale(1.2,1)" font-family="Noto Serif CJK SC" font-size="16.8">〈</text>
<text transform="translate(17.4,259.95) rotate(-90)" font-family="'Liberation Serif', 'Times New Roman', serif" font-size="18.8">|</text>
<text transform="translate(17.5,254.9) rotate(-90) scale(0.85,1)" font-family="'Liberation Serif', 'Times New Roman', serif" font-size="18.4">z</text>
<text transform="translate(17.3,247.25) rotate(-90)" font-family="'Liberation Serif', 'Times New Roman', serif" font-size="18.8">|</text>
<text transform="translate(19.28,242.52) rotate(-90) scale(1.15,1)" font-family="Noto Serif CJK SC" font-size="16.8">〉</text>
<text transform="translate(13.33,345.5) rotate(-90) scale(0.82,1)" font-family="Noto Serif CJK SC, serif" font-size="16.6">χ</text>
<text transform="translate(17.6,337.98) rotate(-90)" font-family="'Liberation Serif', 'Times New Roman', serif" font-size="12.5" style="stroke-width:0.1px">el</text>
<text transform="translate(13.12,438.25) rotate(-90) scale(0.82,1)" font-family="Noto Serif CJK SC, serif" font-size="16.6">χ</text>
<text transform="translate(17.7,430.68) rotate(-90)" font-family="'Liberation Serif', 'Times New Roman', serif" font-size="12.5" style="stroke-width:0.1px">mom</text>
<text x="214.22" y="497.57" font-family="'Liberation Serif', 'Times New Roman', serif" font-size="17" font-style="italic" style="stroke-width:0.12px">a</text>
<text x="223.25" y="502.05" font-family="'Liberation Serif', 'Times New Roman', serif" font-size="12" font-style="italic" style="stroke-width:0.12px">s</text>
<text x="231.4" y="501.9" font-family="'Liberation Serif', 'Times New Roman', serif" font-size="12" font-style="italic">/</text>
<text x="237.78" y="497.52" font-family="'Liberation Serif', 'Times New Roman', serif" font-size="17" font-style="italic" style="stroke-width:0.12px">a</text>
<text x="247.28" y="502.45" font-family="'Liberation Serif', 'Times New Roman', serif" font-size="12.5" style="stroke-width:0.15px">0</text>
<line x1="207.4" y1="213" x2="207.4" y2="464" stroke="#5050ff" stroke-width="1" stroke-dasharray="1 1" opacity="0.6"/>
<polyline points="69.2,235 79,235.8 100,237.5 122.3,239.9 142.9,243.8 160.1,247.9 174.9,253.6 186.4,258.9 193.3,262.8 201.3,269.6 205.9,276.5 207,284.1" fill="none" stroke="#0000ff" stroke-width="1.2" stroke-dasharray="3.7 2.6"/>
<line x1="207" y1="284.1" x2="295" y2="284.1" stroke="#0000ff" stroke-width="1.2" stroke-dasharray="3.4 3.4" opacity="0.7"/>
<line x1="71.7" y1="239.4" x2="71.7" y2="249.9" stroke="#0000ff" stroke-width="1.2"/>
<rect x="70.2" y="243.3" width="3" height="3" fill="#fff" stroke="#0000ff" stroke-width="1.15"/>
<line x1="120.9" y1="238.4" x2="120.9" y2="249.1" stroke="#0000ff" stroke-width="1.2"/>
<rect x="119.4" y="242.4" width="3" height="3" fill="#fff" stroke="#0000ff" stroke-width="1.15"/>
<line x1="154.3" y1="242.9" x2="154.3" y2="261.2" stroke="#0000ff" stroke-width="1.2"/>
<rect x="152.8" y="250.5" width="3" height="3" fill="#fff" stroke="#0000ff" stroke-width="1.15"/>
<line x1="188.4" y1="248.1" x2="188.4" y2="273.5" stroke="#0000ff" stroke-width="1.2"/>
<rect x="186.9" y="259.4" width="3" height="3" fill="#fff" stroke="#0000ff" stroke-width="1.15"/>
<line x1="197.3" y1="256.6" x2="197.3" y2="281" stroke="#0000ff" stroke-width="1.2"/>
<rect x="195.8" y="267" width="3" height="3" fill="#fff" stroke="#0000ff" stroke-width="1.15"/>
<line x1="206" y1="265.8" x2="206" y2="281.2" stroke="#0000ff" stroke-width="1.2"/>
<rect x="204.5" y="271.7" width="3" height="3" fill="#fff" stroke="#0000ff" stroke-width="1.15"/>
<line x1="214.3" y1="273.3" x2="214.3" y2="294.5" stroke="#0000ff" stroke-width="1.2"/>
<rect x="212.8" y="282.6" width="3" height="3" fill="#fff" stroke="#0000ff" stroke-width="1.15"/>
<line x1="223.5" y1="273.3" x2="223.5" y2="294.5" stroke="#0000ff" stroke-width="1.2"/>
<rect x="222" y="282.7" width="3" height="3" fill="#fff" stroke="#0000ff" stroke-width="1.15"/>
<line x1="241.6" y1="278.1" x2="241.6" y2="289.7" stroke="#0000ff" stroke-width="1.2"/>
<rect x="240.1" y="282.7" width="3" height="3" fill="#fff" stroke="#0000ff" stroke-width="1.15"/>
<line x1="296.4" y1="274.2" x2="296.4" y2="293.7" stroke="#0000ff" stroke-width="1.2"/>
<rect x="294.9" y="282.3" width="3" height="3" fill="#fff" stroke="#0000ff" stroke-width="1.15"/>
<line x1="400.4" y1="279.2" x2="400.4" y2="288.7" stroke="#0000ff" stroke-width="1.2"/>
<rect x="398.9" y="282.5" width="3" height="3" fill="#fff" stroke="#0000ff" stroke-width="1.15"/>
<circle cx="71.4" cy="373.2" r="1.95" fill="#fff" stroke="#ff0000" stroke-width="1.3"/>
<circle cx="121.3" cy="372.4" r="1.95" fill="#fff" stroke="#ff0000" stroke-width="1.3"/>
<circle cx="154.2" cy="370.1" r="1.95" fill="#fff" stroke="#ff0000" stroke-width="1.3"/>
<circle cx="188.4" cy="370.5" r="1.95" fill="#fff" stroke="#ff0000" stroke-width="1.3"/>
<line x1="197.2" y1="322" x2="197.2" y2="337.6" stroke="#ff0000" stroke-width="1.2"/>
<circle cx="197.2" cy="329.9" r="1.95" fill="#fff" stroke="#ff0000" stroke-width="1.3"/>
<line x1="205.9" y1="334.4" x2="205.9" y2="348.5" stroke="#ff0000" stroke-width="1.2"/>
<circle cx="205.9" cy="341.6" r="1.95" fill="#fff" stroke="#ff0000" stroke-width="1.3"/>
<line x1="214.7" y1="345" x2="214.7" y2="357" stroke="#ff0000" stroke-width="1.2"/>
<circle cx="214.7" cy="351.1" r="1.95" fill="#fff" stroke="#ff0000" stroke-width="1.3"/>
<circle cx="223.7" cy="366.5" r="1.95" fill="#fff" stroke="#ff0000" stroke-width="1.3"/>
<circle cx="241.2" cy="373.7" r="1.95" fill="#fff" stroke="#ff0000" stroke-width="1.3"/>
<circle cx="296.2" cy="373.9" r="1.95" fill="#fff" stroke="#ff0000" stroke-width="1.3"/>
<circle cx="400" cy="373.9" r="1.95" fill="#fff" stroke="#ff0000" stroke-width="1.3"/>
<circle cx="95.5" cy="458.4" r="1.95" fill="#fff" stroke="#ff0000" stroke-width="1.3"/>
<circle cx="137.2" cy="456.7" r="1.95" fill="#fff" stroke="#ff0000" stroke-width="1.3"/>
<circle cx="170.4" cy="457.7" r="1.95" fill="#fff" stroke="#ff0000" stroke-width="1.3"/>
<line x1="192.4" y1="444.9" x2="192.4" y2="458.7" stroke="#ff0000" stroke-width="1.2"/>
<circle cx="192.4" cy="451.6" r="1.95" fill="#fff" stroke="#ff0000" stroke-width="1.3"/>
<line x1="201.95" y1="390.1" x2="201.95" y2="452.1" stroke="#ff0000" stroke-width="1.2"/>
<circle cx="201.95" cy="421.1" r="1.95" fill="#fff" stroke="#ff0000" stroke-width="1.3"/>
<line x1="210.4" y1="392.7" x2="210.4" y2="430.9" stroke="#ff0000" stroke-width="1.2"/>
<circle cx="210.4" cy="411.8" r="1.95" fill="#fff" stroke="#ff0000" stroke-width="1.3"/>
<line x1="219.4" y1="421.1" x2="219.4" y2="441.8" stroke="#ff0000" stroke-width="1.2"/>
<circle cx="219.4" cy="431.2" r="1.95" fill="#fff" stroke="#ff0000" stroke-width="1.3"/>
<line x1="232.4" y1="444.1" x2="232.4" y2="457.4" stroke="#ff0000" stroke-width="1.2"/>
<circle cx="232.4" cy="450.8" r="1.95" fill="#fff" stroke="#ff0000" stroke-width="1.3"/>
<circle cx="268.9" cy="457.9" r="1.95" fill="#fff" stroke="#ff0000" stroke-width="1.3"/>
<circle cx="347.9" cy="458.3" r="1.95" fill="#fff" stroke="#ff0000" stroke-width="1.3"/>
<rect x="308.6" y="217.3" width="87.4" height="69.9" fill="#fff" stroke="none"/>
<rect x="313.2" y="224" width="1.8" height="12.6" fill="#0000ff"/>
<rect x="313.2" y="242" width="1.8" height="1.2" fill="#0000ff"/>
<rect x="313.2" y="270.9" width="1.8" height="8.8" fill="#0000ff"/>
<rect x="324.75" y="225.1" width="1.7" height="9.4" fill="#0000ff"/>
<rect x="324.75" y="235.5" width="1.7" height="3.2" fill="#0000ff"/>
<rect x="324.75" y="263.4" width="1.7" height="1.2" fill="#0000ff"/>
<rect x="324.75" y="269.4" width="1.7" height="10.3" fill="#0000ff"/>
<rect x="332.9" y="227.3" width="1.6" height="4" fill="#0000ff"/>
<rect x="332.9" y="231.8" width="1.6" height="1.3" fill="#0000ff"/>
<rect x="332.9" y="234.3" width="1.6" height="1.3" fill="#0000ff"/>
<rect x="332.9" y="236.1" width="1.6" height="1.3" fill="#0000ff"/>
<rect x="332.9" y="238.6" width="1.6" height="2.2" fill="#0000ff"/>
<rect x="332.9" y="241.3" width="1.6" height="4" fill="#0000ff"/>
<rect x="332.9" y="261.1" width="1.6" height="2.2" fill="#0000ff"/>
<rect x="332.9" y="263.8" width="1.6" height="4" fill="#0000ff"/>
<rect x="332.9" y="268.3" width="1.6" height="1.3" fill="#0000ff"/>
<rect x="332.9" y="270.8" width="1.6" height="1.3" fill="#0000ff"/>
<rect x="332.9" y="272.6" width="1.6" height="4" fill="#0000ff"/>
<rect x="332.9" y="277.1" width="1.6" height="2.2" fill="#0000ff"/>
<rect x="340.55" y="229.2" width="1.5" height="2.2" fill="#0000ff"/>
<rect x="340.55" y="231.9" width="1.5" height="2.2" fill="#0000ff"/>
<rect x="340.55" y="234.6" width="1.5" height="3.2" fill="#0000ff"/>
<rect x="340.55" y="238.3" width="1.5" height="2.2" fill="#0000ff"/>
<rect x="340.55" y="241" width="1.5" height="2.2" fill="#0000ff"/>
<rect x="340.55" y="243.7" width="1.5" height="1.3" fill="#0000ff"/>
<rect x="340.55" y="245.5" width="1.5" height="2.2" fill="#0000ff"/>
<rect x="340.55" y="248.2" width="1.5" height="4" fill="#0000ff"/>
<rect x="340.55" y="253.4" width="1.5" height="4" fill="#0000ff"/>
<rect x="340.55" y="257.9" width="1.5" height="4" fill="#0000ff"/>
<rect x="340.55" y="262.4" width="1.5" height="2.2" fill="#0000ff"/>
<rect x="340.55" y="265.8" width="1.5" height="2.2" fill="#0000ff"/>
<rect x="340.55" y="268.5" width="1.5" height="3.2" fill="#0000ff"/>
<rect x="340.55" y="272.2" width="1.5" height="3.2" fill="#0000ff"/>
<rect x="340.55" y="275.9" width="1.5" height="3.2" fill="#0000ff"/>
<rect x="342.9" y="235.1" width="1.6" height="1.3" fill="#0000ff"/>
<rect x="342.9" y="236.9" width="1.6" height="4" fill="#0000ff"/>
<rect x="342.9" y="241.4" width="1.6" height="3.2" fill="#0000ff"/>
<rect x="342.9" y="245.1" width="1.6" height="4" fill="#0000ff"/>
<rect x="342.9" y="249.6" width="1.6" height="1.3" fill="#0000ff"/>
<rect x="342.9" y="252.1" width="1.6" height="3.2" fill="#0000ff"/>
<rect x="342.9" y="255.8" width="1.6" height="3.2" fill="#0000ff"/>
<rect x="342.9" y="259.5" width="1.6" height="4" fill="#0000ff"/>
<rect x="342.9" y="264" width="1.6" height="1.3" fill="#0000ff"/>
<rect x="342.9" y="266.5" width="1.6" height="4" fill="#0000ff"/>
<rect x="342.9" y="271" width="1.6" height="1.3" fill="#0000ff"/>
<rect x="342.9" y="272.8" width="1.6" height="0.9" fill="#0000ff"/>
<rect x="344.85" y="238" width="1.5" height="4" fill="#0000ff"/>
<rect x="344.85" y="242.5" width="1.5" height="4" fill="#0000ff"/>
<rect x="344.85" y="247.7" width="1.5" height="3.2" fill="#0000ff"/>
<rect x="344.85" y="251.4" width="1.5" height="4" fill="#0000ff"/>
<rect x="344.85" y="255.9" width="1.5" height="1.3" fill="#0000ff"/>
<rect x="344.85" y="257.7" width="1.5" height="2.2" fill="#0000ff"/>
<rect x="344.85" y="261.1" width="1.5" height="2.2" fill="#0000ff"/>
<rect x="344.85" y="263.8" width="1.5" height="4" fill="#0000ff"/>
<rect x="347" y="239.3" width="1.6" height="4" fill="#0000ff"/>
<rect x="347" y="243.8" width="1.6" height="4" fill="#0000ff"/>
<rect x="347" y="248.3" width="1.6" height="3.2" fill="#0000ff"/>
<rect x="347" y="252.7" width="1.6" height="4" fill="#0000ff"/>
<rect x="347" y="257.9" width="1.6" height="3.2" fill="#0000ff"/>
<rect x="347" y="261.6" width="1.6" height="3.2" fill="#0000ff"/>
<rect x="347" y="265.3" width="1.6" height="1.9" fill="#0000ff"/>
<rect x="349" y="235.7" width="1.6" height="2.2" fill="#0000ff"/>
<rect x="349" y="238.4" width="1.6" height="2.2" fill="#0000ff"/>
<rect x="349" y="241.1" width="1.6" height="2.2" fill="#0000ff"/>
<rect x="349" y="243.8" width="1.6" height="2.2" fill="#0000ff"/>
<rect x="349" y="246.5" width="1.6" height="1.3" fill="#0000ff"/>
<rect x="349" y="248.3" width="1.6" height="3.2" fill="#0000ff"/>
<rect x="349" y="252" width="1.6" height="3.2" fill="#0000ff"/>
<rect x="349" y="256.4" width="1.6" height="1.3" fill="#0000ff"/>
<rect x="349" y="258.2" width="1.6" height="4" fill="#0000ff"/>
<rect x="349" y="262.7" width="1.6" height="2.7" fill="#0000ff"/>
<rect x="353" y="241.6" width="1.6" height="4" fill="#0000ff"/>
<rect x="353" y="246.1" width="1.6" height="1.3" fill="#0000ff"/>
<rect x="353" y="248.6" width="1.6" height="4" fill="#0000ff"/>
<rect x="353" y="253.1" width="1.6" height="3.2" fill="#0000ff"/>
<rect x="353" y="256.8" width="1.6" height="1.3" fill="#0000ff"/>
<rect x="365.8" y="236.9" width="1.8" height="4" fill="#0000ff"/>
<rect x="365.8" y="245" width="1.8" height="18.6" fill="#0000ff"/>
<rect x="365.8" y="269.9" width="1.8" height="1.1" fill="#0000ff"/>
<rect x="389.95" y="241.1" width="1.9" height="2.2" fill="#0000ff"/>
<rect x="389.95" y="243.8" width="1.9" height="3.2" fill="#0000ff"/>
<rect x="389.95" y="247.5" width="1.9" height="1.3" fill="#0000ff"/>
<rect x="389.95" y="250" width="1.9" height="4" fill="#0000ff"/>
<rect x="389.95" y="254.5" width="1.9" height="3.2" fill="#0000ff"/>
<line x1="345.9" y1="217.3" x2="345.9" y2="287.2" stroke="#6a6aff" stroke-width="0.8" stroke-dasharray="1 1" opacity="0.7"/>
<rect x="308.6" y="217.3" width="87.4" height="69.9" fill="none" stroke="#333" stroke-width="1.3"/>
<line x1="313.91" y1="217.3" x2="313.91" y2="220.5" stroke="#333" stroke-width="1.1"/>
<line x1="313.91" y1="287.2" x2="313.91" y2="284" stroke="#333" stroke-width="1.1"/>
<line x1="339.54" y1="217.3" x2="339.54" y2="220.5" stroke="#333" stroke-width="1.1"/>
<line x1="339.54" y1="287.2" x2="339.54" y2="284" stroke="#333" stroke-width="1.1"/>
<line x1="365.17" y1="217.3" x2="365.17" y2="220.5" stroke="#333" stroke-width="1.1"/>
<line x1="365.17" y1="287.2" x2="365.17" y2="284" stroke="#333" stroke-width="1.1"/>
<line x1="390.8" y1="217.3" x2="390.8" y2="220.5" stroke="#333" stroke-width="1.1"/>
<line x1="390.8" y1="287.2" x2="390.8" y2="284" stroke="#333" stroke-width="1.1"/>
<line x1="308.6" y1="269.55" x2="311.2" y2="269.55" stroke="#333" stroke-width="1.1"/>
<line x1="396" y1="269.55" x2="393.4" y2="269.55" stroke="#333" stroke-width="1.1"/>
<line x1="308.6" y1="252.1" x2="311.2" y2="252.1" stroke="#333" stroke-width="1.1"/>
<line x1="396" y1="252.1" x2="393.4" y2="252.1" stroke="#333" stroke-width="1.1"/>
<line x1="308.6" y1="234.65" x2="311.2" y2="234.65" stroke="#333" stroke-width="1.1"/>
<line x1="396" y1="234.65" x2="393.4" y2="234.65" stroke="#333" stroke-width="1.1"/>
<text x="302.65" y="219.28" font-family="'Liberation Sans', Arial, sans-serif" font-size="7" fill="#333" style="stroke:#333;stroke-width:0.15px">1</text>
<text x="302.98" y="254.28" font-family="'Liberation Sans', Arial, sans-serif" font-size="7" fill="#333" style="stroke:#333;stroke-width:0.15px">0</text>
<text x="299.57" y="289.23" font-family="'Liberation Sans', Arial, sans-serif" font-size="7" fill="#333" style="stroke:#333;stroke-width:0.15px" letter-spacing="-1.4">-1</text>
<text x="310.2" y="294.0" font-family="'Liberation Sans', Arial, sans-serif" font-size="7" fill="#333" style="stroke:#333;stroke-width:0.15px" letter-spacing="-1.2">-3</text>
<text x="389.12" y="293.83" font-family="'Liberation Sans', Arial, sans-serif" font-size="7" fill="#333" style="stroke:#333;stroke-width:0.15px">0</text>
</svg></body></html>
